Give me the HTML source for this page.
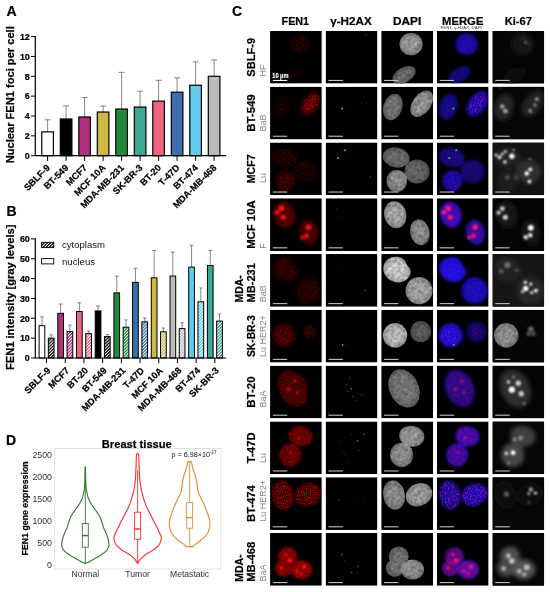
<!DOCTYPE html>
<html lang="en"><head><meta charset="utf-8"><title>FEN1 figure</title>
<style>html,body{margin:0;padding:0;background:#fff}svg{display:block}text{font-family:"Liberation Sans", Arial, sans-serif}</style></head><body>
<svg width="550" height="592" viewBox="0 0 550 592">
<rect width="550" height="592" fill="#fff"/>
<defs>
<pattern id="hSBLF9" width="2.2" height="2.2" patternUnits="userSpaceOnUse" patternTransform="rotate(-45)"><rect width="2.2" height="2.2" fill="#fff"/><rect width="2.2" height="1.3" fill="#222"/></pattern>
<pattern id="hBT549" width="2.2" height="2.2" patternUnits="userSpaceOnUse" patternTransform="rotate(-45)"><rect width="2.2" height="2.2" fill="#fff"/><rect width="2.2" height="1.3" fill="#000000"/></pattern>
<pattern id="hMCF7" width="2.2" height="2.2" patternUnits="userSpaceOnUse" patternTransform="rotate(-45)"><rect width="2.2" height="2.2" fill="#fff"/><rect width="2.2" height="1.3" fill="#b0307c"/></pattern>
<pattern id="hMCF10A" width="2.2" height="2.2" patternUnits="userSpaceOnUse" patternTransform="rotate(-45)"><rect width="2.2" height="2.2" fill="#fff"/><rect width="2.2" height="1.3" fill="#cdb845"/></pattern>
<pattern id="hMDAMB231" width="2.2" height="2.2" patternUnits="userSpaceOnUse" patternTransform="rotate(-45)"><rect width="2.2" height="2.2" fill="#fff"/><rect width="2.2" height="1.3" fill="#1f8a38"/></pattern>
<pattern id="hSKBR3" width="2.2" height="2.2" patternUnits="userSpaceOnUse" patternTransform="rotate(-45)"><rect width="2.2" height="2.2" fill="#fff"/><rect width="2.2" height="1.3" fill="#3fa894"/></pattern>
<pattern id="hBT20" width="2.2" height="2.2" patternUnits="userSpaceOnUse" patternTransform="rotate(-45)"><rect width="2.2" height="2.2" fill="#fff"/><rect width="2.2" height="1.3" fill="#ee6681"/></pattern>
<pattern id="hT47D" width="2.2" height="2.2" patternUnits="userSpaceOnUse" patternTransform="rotate(-45)"><rect width="2.2" height="2.2" fill="#fff"/><rect width="2.2" height="1.3" fill="#3c70ad"/></pattern>
<pattern id="hBT474" width="2.2" height="2.2" patternUnits="userSpaceOnUse" patternTransform="rotate(-45)"><rect width="2.2" height="2.2" fill="#fff"/><rect width="2.2" height="1.3" fill="#62cbee"/></pattern>
<pattern id="hMDAMB468" width="2.2" height="2.2" patternUnits="userSpaceOnUse" patternTransform="rotate(-45)"><rect width="2.2" height="2.2" fill="#fff"/><rect width="2.2" height="1.3" fill="#bbbbbb"/></pattern>
<pattern id="hleg" width="2.2" height="2.2" patternUnits="userSpaceOnUse" patternTransform="rotate(-45)"><rect width="2.2" height="2.2" fill="#fff"/><rect width="2.2" height="1.3" fill="#111"/></pattern>
<filter id="b05" x="-20%" y="-20%" width="140%" height="140%"><feGaussianBlur stdDeviation="0.5"/></filter>
<filter id="b08" x="-20%" y="-20%" width="140%" height="140%"><feGaussianBlur stdDeviation="0.8"/></filter>
<filter id="b12" x="-30%" y="-30%" width="160%" height="160%"><feGaussianBlur stdDeviation="1.2"/></filter>
<filter id="b20" x="-30%" y="-30%" width="160%" height="160%"><feGaussianBlur stdDeviation="2"/></filter>
<filter id="sp" x="-60%" y="-60%" width="220%" height="220%"><feGaussianBlur stdDeviation="0.9"/></filter>
<filter id="sp2" x="-60%" y="-60%" width="220%" height="220%"><feGaussianBlur stdDeviation="0.55"/></filter>
<filter id="sp3" x="-80%" y="-80%" width="260%" height="260%"><feGaussianBlur stdDeviation="0.9"/></filter>
<filter id="dapi" x="-10%" y="-10%" width="120%" height="120%" color-interpolation-filters="sRGB"><feGaussianBlur in="SourceGraphic" stdDeviation="0.6" result="s"/><feTurbulence type="fractalNoise" baseFrequency="0.3" numOctaves="2" seed="4" result="n"/><feColorMatrix in="n" type="matrix" values="0.33 0.33 0.33 0 0  0.33 0.33 0.33 0 0  0.33 0.33 0.33 0 0  0 0 0 0 1" result="g"/><feComposite in="s" in2="g" operator="arithmetic" k1="1.1" k2="0.45" k3="0" k4="0" result="t"/><feGaussianBlur in="SourceAlpha" stdDeviation="3.6" result="d"/><feComposite in="t" in2="d" operator="in" result="td"/><feComposite in="t" in2="td" operator="arithmetic" k1="0" k2="0.64" k3="0.43" k4="0"/></filter>
<filter id="dome" x="-10%" y="-10%" width="120%" height="120%" color-interpolation-filters="sRGB"><feGaussianBlur in="SourceGraphic" stdDeviation="0.9" result="t"/><feGaussianBlur in="SourceAlpha" stdDeviation="3.6" result="d"/><feComposite in="t" in2="d" operator="in" result="td"/><feComposite in="t" in2="td" operator="arithmetic" k1="0" k2="0.64" k3="0.43" k4="0"/></filter>
<filter id="fSoft" x="-25%" y="-25%" width="150%" height="150%" color-interpolation-filters="sRGB"><feGaussianBlur in="SourceGraphic" stdDeviation="2.0" result="s"/><feTurbulence type="fractalNoise" baseFrequency="0.8" numOctaves="2" seed="7" result="n"/><feColorMatrix in="n" type="matrix" values="2.6 0 0 0 -0.7  2.6 0 0 0 -0.7  2.6 0 0 0 -0.7  0 0 0 0 1" result="g"/><feComposite in="s" in2="g" operator="arithmetic" k1="1" k2="0" k3="0" k4="0" result="m"/><feGaussianBlur in="m" stdDeviation="0.6"/></filter>
<filter id="fGrain" x="-25%" y="-25%" width="150%" height="150%" color-interpolation-filters="sRGB"><feGaussianBlur in="SourceGraphic" stdDeviation="1.0" result="s"/><feTurbulence type="fractalNoise" baseFrequency="0.85" numOctaves="2" seed="11" result="n"/><feColorMatrix in="n" type="matrix" values="3.2 0 0 0 -1.1  3.2 0 0 0 -1.1  3.2 0 0 0 -1.1  0 0 0 0 1" result="g"/><feComposite in="s" in2="g" operator="arithmetic" k1="1" k2="0" k3="0" k4="0" result="m"/><feGaussianBlur in="m" stdDeviation="0.55"/></filter>
<filter id="fSparse" x="-25%" y="-25%" width="150%" height="150%" color-interpolation-filters="sRGB"><feGaussianBlur in="SourceGraphic" stdDeviation="1.6" result="s"/><feTurbulence type="fractalNoise" baseFrequency="0.75" numOctaves="2" seed="5" result="n"/><feColorMatrix in="n" type="matrix" values="4.5 0 0 0 -2.0  4.5 0 0 0 -2.0  4.5 0 0 0 -2.0  0 0 0 0 1" result="g"/><feComposite in="s" in2="g" operator="arithmetic" k1="1" k2="0" k3="0" k4="0" result="m"/><feGaussianBlur in="m" stdDeviation="0.6"/></filter>
<filter id="fSmooth" x="-25%" y="-25%" width="150%" height="150%" color-interpolation-filters="sRGB"><feGaussianBlur in="SourceGraphic" stdDeviation="1.4" result="s"/><feTurbulence type="fractalNoise" baseFrequency="0.4" numOctaves="2" seed="9" result="n"/><feColorMatrix in="n" type="matrix" values="1.2 0 0 0 0.35  1.2 0 0 0 0.35  1.2 0 0 0 0.35  0 0 0 0 1" result="g"/><feComposite in="s" in2="g" operator="arithmetic" k1="1" k2="0" k3="0" k4="0" result="m"/><feGaussianBlur in="m" stdDeviation="0.5"/></filter>
<filter id="mGrain" x="-25%" y="-25%" width="150%" height="150%" color-interpolation-filters="sRGB"><feGaussianBlur in="SourceGraphic" stdDeviation="1.2" result="s"/><feTurbulence type="fractalNoise" baseFrequency="0.6" numOctaves="2" seed="13" result="n"/><feColorMatrix in="n" type="matrix" values="5 0 0 0 -2.4  5 0 0 0 -2.4  5 0 0 0 -2.4  0 0 0 0 1" result="g"/><feComposite in="s" in2="g" operator="arithmetic" k1="1" k2="0" k3="0" k4="0" result="m"/><feGaussianBlur in="m" stdDeviation="0.5"/></filter>
</defs>
<text x="6.40" y="16.30" font-size="14" font-weight="bold" stroke="#000" stroke-width="0.22" text-anchor="start" fill="#000">A</text>
<text x="6.60" y="215.60" font-size="14" font-weight="bold" stroke="#000" stroke-width="0.22" text-anchor="start" fill="#000">B</text>
<text x="232.00" y="16.30" font-size="14" font-weight="bold" stroke="#000" stroke-width="0.22" text-anchor="start" fill="#000">C</text>
<text x="6.10" y="444.50" font-size="14" font-weight="bold" stroke="#000" stroke-width="0.22" text-anchor="start" fill="#000">D</text>
<g id="panelA">
<text x="14.20" y="94.75" font-size="11" font-weight="bold" stroke="#000" stroke-width="0.22" text-anchor="middle" fill="#000" transform="rotate(-90 14.20 94.75)" textLength="137.00" lengthAdjust="spacingAndGlyphs">Nuclear FEN1 foci per cell</text>
<path d="M47.60 131.88V119.77M44.60 119.77H50.60" stroke="#555" stroke-width="0.7" fill="none"/>
<rect x="41.80" y="131.88" width="11.6" height="23.82" fill="#ffffff" stroke="#000" stroke-width="1.2"/>
<path d="M47.60 155.70v5.2" stroke="#000" stroke-width="1"/>
<text x="50.70" y="168.30" font-size="9.3" font-weight="bold" stroke="#000" stroke-width="0.22" text-anchor="end" fill="#000" transform="rotate(-45 50.70 168.30)">SBLF-9</text>
<path d="M66.10 118.98V105.88M63.10 105.88H69.10" stroke="#555" stroke-width="0.7" fill="none"/>
<rect x="60.30" y="118.98" width="11.6" height="36.72" fill="#000000" stroke="#000" stroke-width="1.2"/>
<path d="M66.10 155.70v5.2" stroke="#000" stroke-width="1"/>
<text x="69.20" y="168.30" font-size="9.3" font-weight="bold" stroke="#000" stroke-width="0.22" text-anchor="end" fill="#000" transform="rotate(-45 69.20 168.30)">BT-549</text>
<path d="M84.60 116.99V97.64M81.60 97.64H87.60" stroke="#555" stroke-width="0.7" fill="none"/>
<rect x="78.80" y="116.99" width="11.6" height="38.71" fill="#b0307c" stroke="#000" stroke-width="1.2"/>
<path d="M84.60 155.70v5.2" stroke="#000" stroke-width="1"/>
<text x="87.70" y="168.30" font-size="9.3" font-weight="bold" stroke="#000" stroke-width="0.22" text-anchor="end" fill="#000" transform="rotate(-45 87.70 168.30)">MCF7</text>
<path d="M103.10 112.03V106.07M100.10 106.07H106.10" stroke="#555" stroke-width="0.7" fill="none"/>
<rect x="97.30" y="112.03" width="11.6" height="43.67" fill="#cdb845" stroke="#000" stroke-width="1.2"/>
<path d="M103.10 155.70v5.2" stroke="#000" stroke-width="1"/>
<text x="106.20" y="168.30" font-size="9.3" font-weight="bold" stroke="#000" stroke-width="0.22" text-anchor="end" fill="#000" transform="rotate(-45 106.20 168.30)">MCF 10A</text>
<path d="M121.60 109.05V72.33M118.60 72.33H124.60" stroke="#555" stroke-width="0.7" fill="none"/>
<rect x="115.80" y="109.05" width="11.6" height="46.65" fill="#1f8a38" stroke="#000" stroke-width="1.2"/>
<path d="M121.60 155.70v5.2" stroke="#000" stroke-width="1"/>
<text x="124.70" y="168.30" font-size="9.3" font-weight="bold" stroke="#000" stroke-width="0.22" text-anchor="end" fill="#000" transform="rotate(-45 124.70 168.30)">MDA-MB-231</text>
<path d="M140.10 107.07V91.19M137.10 91.19H143.10" stroke="#555" stroke-width="0.7" fill="none"/>
<rect x="134.30" y="107.07" width="11.6" height="48.63" fill="#3fa894" stroke="#000" stroke-width="1.2"/>
<path d="M140.10 155.70v5.2" stroke="#000" stroke-width="1"/>
<text x="143.20" y="168.30" font-size="9.3" font-weight="bold" stroke="#000" stroke-width="0.22" text-anchor="end" fill="#000" transform="rotate(-45 143.20 168.30)">SK-BR-3</text>
<path d="M158.60 101.11V80.27M155.60 80.27H161.60" stroke="#555" stroke-width="0.7" fill="none"/>
<rect x="152.80" y="101.11" width="11.6" height="54.59" fill="#ee6681" stroke="#000" stroke-width="1.2"/>
<path d="M158.60 155.70v5.2" stroke="#000" stroke-width="1"/>
<text x="161.70" y="168.30" font-size="9.3" font-weight="bold" stroke="#000" stroke-width="0.22" text-anchor="end" fill="#000" transform="rotate(-45 161.70 168.30)">BT-20</text>
<path d="M177.10 92.18V77.79M174.10 77.79H180.10" stroke="#555" stroke-width="0.7" fill="none"/>
<rect x="171.30" y="92.18" width="11.6" height="63.52" fill="#3c70ad" stroke="#000" stroke-width="1.2"/>
<path d="M177.10 155.70v5.2" stroke="#000" stroke-width="1"/>
<text x="180.20" y="168.30" font-size="9.3" font-weight="bold" stroke="#000" stroke-width="0.22" text-anchor="end" fill="#000" transform="rotate(-45 180.20 168.30)">T-47D</text>
<path d="M195.60 85.23V61.91M192.60 61.91H198.60" stroke="#555" stroke-width="0.7" fill="none"/>
<rect x="189.80" y="85.23" width="11.6" height="70.47" fill="#62cbee" stroke="#000" stroke-width="1.2"/>
<path d="M195.60 155.70v5.2" stroke="#000" stroke-width="1"/>
<text x="198.70" y="168.30" font-size="9.3" font-weight="bold" stroke="#000" stroke-width="0.22" text-anchor="end" fill="#000" transform="rotate(-45 198.70 168.30)">BT-474</text>
<path d="M214.10 76.30V59.92M211.10 59.92H217.10" stroke="#555" stroke-width="0.7" fill="none"/>
<rect x="208.30" y="76.30" width="11.6" height="79.40" fill="#bbbbbb" stroke="#000" stroke-width="1.2"/>
<path d="M214.10 155.70v5.2" stroke="#000" stroke-width="1"/>
<text x="217.20" y="168.30" font-size="9.3" font-weight="bold" stroke="#000" stroke-width="0.22" text-anchor="end" fill="#000" transform="rotate(-45 217.20 168.30)">MDA-MB-468</text>
<path d="M35.3 36.1V155.7H226.2" stroke="#000" stroke-width="1.2" fill="none"/>
<path d="M30.999999999999996 155.70H35.3" stroke="#000" stroke-width="1"/>
<text x="29.80" y="158.90" font-size="8.9" font-weight="bold" stroke="#000" stroke-width="0.22" text-anchor="end" fill="#000">0</text>
<path d="M30.999999999999996 135.85H35.3" stroke="#000" stroke-width="1"/>
<text x="29.80" y="139.05" font-size="8.9" font-weight="bold" stroke="#000" stroke-width="0.22" text-anchor="end" fill="#000">2</text>
<path d="M30.999999999999996 116.00H35.3" stroke="#000" stroke-width="1"/>
<text x="29.80" y="119.20" font-size="8.9" font-weight="bold" stroke="#000" stroke-width="0.22" text-anchor="end" fill="#000">4</text>
<path d="M30.999999999999996 96.15H35.3" stroke="#000" stroke-width="1"/>
<text x="29.80" y="99.35" font-size="8.9" font-weight="bold" stroke="#000" stroke-width="0.22" text-anchor="end" fill="#000">6</text>
<path d="M30.999999999999996 76.30H35.3" stroke="#000" stroke-width="1"/>
<text x="29.80" y="79.50" font-size="8.9" font-weight="bold" stroke="#000" stroke-width="0.22" text-anchor="end" fill="#000">8</text>
<path d="M30.999999999999996 56.45H35.3" stroke="#000" stroke-width="1"/>
<text x="29.80" y="59.65" font-size="8.9" font-weight="bold" stroke="#000" stroke-width="0.22" text-anchor="end" fill="#000">10</text>
<path d="M30.999999999999996 36.60H35.3" stroke="#000" stroke-width="1"/>
<text x="29.80" y="39.80" font-size="8.9" font-weight="bold" stroke="#000" stroke-width="0.22" text-anchor="end" fill="#000">12</text>
</g>
<g id="panelB">
<text x="14.20" y="297.30" font-size="11" font-weight="bold" stroke="#000" stroke-width="0.22" text-anchor="middle" fill="#000" transform="rotate(-90 14.20 297.30)" textLength="145.50" lengthAdjust="spacingAndGlyphs">FEN1 intensity [gray levels]</text>
<path d="M41.95 325.64V316.91M39.95 316.91H43.95" stroke="#555" stroke-width="0.7" fill="none"/>
<rect x="39.10" y="325.64" width="5.7" height="32.36" fill="#ffffff" stroke="#000" stroke-width="1.0"/>
<path d="M51.20 338.15V334.78M49.60 334.78H52.80" stroke="#555" stroke-width="0.7" fill="none"/>
<rect x="48.35" y="338.15" width="5.7" height="19.85" fill="url(#hSBLF9)" stroke="#000" stroke-width="1.0"/>
<path d="M46.55 358.00v5.2" stroke="#000" stroke-width="1"/>
<text x="51.25" y="371.20" font-size="9.3" font-weight="bold" stroke="#000" stroke-width="0.22" text-anchor="end" fill="#000" transform="rotate(-45 51.25 371.20)">SBLF-9</text>
<path d="M60.65 313.34V304.01M58.65 304.01H62.65" stroke="#555" stroke-width="0.7" fill="none"/>
<rect x="57.80" y="313.34" width="5.7" height="44.66" fill="#b0307c" stroke="#000" stroke-width="1.0"/>
<path d="M69.90 331.60V325.05M68.30 325.05H71.50" stroke="#555" stroke-width="0.7" fill="none"/>
<rect x="67.05" y="331.60" width="5.7" height="26.40" fill="url(#hMCF7)" stroke="#000" stroke-width="1.0"/>
<path d="M65.25 358.00v5.2" stroke="#000" stroke-width="1"/>
<text x="69.95" y="371.20" font-size="9.3" font-weight="bold" stroke="#000" stroke-width="0.22" text-anchor="end" fill="#000" transform="rotate(-45 69.95 371.20)">MCF7</text>
<path d="M79.35 311.55V302.82M77.35 302.82H81.35" stroke="#555" stroke-width="0.7" fill="none"/>
<rect x="76.50" y="311.55" width="5.7" height="46.45" fill="#ee6681" stroke="#000" stroke-width="1.0"/>
<path d="M88.60 333.58V331.00M87.00 331.00H90.20" stroke="#555" stroke-width="0.7" fill="none"/>
<rect x="85.75" y="333.58" width="5.7" height="24.42" fill="url(#hBT20)" stroke="#000" stroke-width="1.0"/>
<path d="M83.95 358.00v5.2" stroke="#000" stroke-width="1"/>
<text x="88.65" y="371.20" font-size="9.3" font-weight="bold" stroke="#000" stroke-width="0.22" text-anchor="end" fill="#000" transform="rotate(-45 88.65 371.20)">BT-20</text>
<path d="M98.05 310.96V305.99M96.05 305.99H100.05" stroke="#555" stroke-width="0.7" fill="none"/>
<rect x="95.20" y="310.96" width="5.7" height="47.04" fill="#000000" stroke="#000" stroke-width="1.0"/>
<path d="M107.30 336.56V334.58M105.70 334.58H108.90" stroke="#555" stroke-width="0.7" fill="none"/>
<rect x="104.45" y="336.56" width="5.7" height="21.44" fill="url(#hBT549)" stroke="#000" stroke-width="1.0"/>
<path d="M102.65 358.00v5.2" stroke="#000" stroke-width="1"/>
<text x="107.35" y="371.20" font-size="9.3" font-weight="bold" stroke="#000" stroke-width="0.22" text-anchor="end" fill="#000" transform="rotate(-45 107.35 371.20)">BT-549</text>
<path d="M116.75 292.89V276.22M114.75 276.22H118.75" stroke="#555" stroke-width="0.7" fill="none"/>
<rect x="113.90" y="292.89" width="5.7" height="65.11" fill="#1f8a38" stroke="#000" stroke-width="1.0"/>
<path d="M126.00 327.23V319.89M124.40 319.89H127.60" stroke="#555" stroke-width="0.7" fill="none"/>
<rect x="123.15" y="327.23" width="5.7" height="30.77" fill="url(#hMDAMB231)" stroke="#000" stroke-width="1.0"/>
<path d="M121.35 358.00v5.2" stroke="#000" stroke-width="1"/>
<text x="126.05" y="371.20" font-size="9.3" font-weight="bold" stroke="#000" stroke-width="0.22" text-anchor="end" fill="#000" transform="rotate(-45 126.05 371.20)">MDA-MB-231</text>
<path d="M135.45 282.37V268.28M133.45 268.28H137.45" stroke="#555" stroke-width="0.7" fill="none"/>
<rect x="132.60" y="282.37" width="5.7" height="75.63" fill="#3c70ad" stroke="#000" stroke-width="1.0"/>
<path d="M144.70 321.87V317.90M143.10 317.90H146.30" stroke="#555" stroke-width="0.7" fill="none"/>
<rect x="141.85" y="321.87" width="5.7" height="36.13" fill="url(#hT47D)" stroke="#000" stroke-width="1.0"/>
<path d="M140.05 358.00v5.2" stroke="#000" stroke-width="1"/>
<text x="144.75" y="371.20" font-size="9.3" font-weight="bold" stroke="#000" stroke-width="0.22" text-anchor="end" fill="#000" transform="rotate(-45 144.75 371.20)">T-47D</text>
<path d="M154.15 277.81V250.41M152.15 250.41H156.15" stroke="#555" stroke-width="0.7" fill="none"/>
<rect x="151.30" y="277.81" width="5.7" height="80.19" fill="#cdb845" stroke="#000" stroke-width="1.0"/>
<path d="M163.40 331.80V328.03M161.80 328.03H165.00" stroke="#555" stroke-width="0.7" fill="none"/>
<rect x="160.55" y="331.80" width="5.7" height="26.20" fill="url(#hMCF10A)" stroke="#000" stroke-width="1.0"/>
<path d="M158.75 358.00v5.2" stroke="#000" stroke-width="1"/>
<text x="163.45" y="371.20" font-size="9.3" font-weight="bold" stroke="#000" stroke-width="0.22" text-anchor="end" fill="#000" transform="rotate(-45 163.45 371.20)">MCF 10A</text>
<path d="M172.85 276.02V252.20M170.85 252.20H174.85" stroke="#555" stroke-width="0.7" fill="none"/>
<rect x="170.00" y="276.02" width="5.7" height="81.98" fill="#bbbbbb" stroke="#000" stroke-width="1.0"/>
<path d="M182.10 328.62V322.67M180.50 322.67H183.70" stroke="#555" stroke-width="0.7" fill="none"/>
<rect x="179.25" y="328.62" width="5.7" height="29.38" fill="url(#hMDAMB468)" stroke="#000" stroke-width="1.0"/>
<path d="M177.45 358.00v5.2" stroke="#000" stroke-width="1"/>
<text x="182.15" y="371.20" font-size="9.3" font-weight="bold" stroke="#000" stroke-width="0.22" text-anchor="end" fill="#000" transform="rotate(-45 182.15 371.20)">MDA-MB-468</text>
<path d="M191.55 267.09V245.25M189.55 245.25H193.55" stroke="#555" stroke-width="0.7" fill="none"/>
<rect x="188.70" y="267.09" width="5.7" height="90.91" fill="#62cbee" stroke="#000" stroke-width="1.0"/>
<path d="M200.80 301.82V287.93M199.20 287.93H202.40" stroke="#555" stroke-width="0.7" fill="none"/>
<rect x="197.95" y="301.82" width="5.7" height="56.18" fill="url(#hBT474)" stroke="#000" stroke-width="1.0"/>
<path d="M196.15 358.00v5.2" stroke="#000" stroke-width="1"/>
<text x="200.85" y="371.20" font-size="9.3" font-weight="bold" stroke="#000" stroke-width="0.22" text-anchor="end" fill="#000" transform="rotate(-45 200.85 371.20)">BT-474</text>
<path d="M210.25 265.50V250.41M208.25 250.41H212.25" stroke="#555" stroke-width="0.7" fill="none"/>
<rect x="207.40" y="265.50" width="5.7" height="92.50" fill="#3fa894" stroke="#000" stroke-width="1.0"/>
<path d="M219.50 321.08V313.93M217.90 313.93H221.10" stroke="#555" stroke-width="0.7" fill="none"/>
<rect x="216.65" y="321.08" width="5.7" height="36.92" fill="url(#hSKBR3)" stroke="#000" stroke-width="1.0"/>
<path d="M214.85 358.00v5.2" stroke="#000" stroke-width="1"/>
<text x="219.55" y="371.20" font-size="9.3" font-weight="bold" stroke="#000" stroke-width="0.22" text-anchor="end" fill="#000" transform="rotate(-45 219.55 371.20)">SK-BR-3</text>
<path d="M35.3 238.3V358.0H226.2" stroke="#000" stroke-width="1.2" fill="none"/>
<path d="M30.999999999999996 358.00H35.3" stroke="#000" stroke-width="1"/>
<text x="29.80" y="361.20" font-size="8.9" font-weight="bold" stroke="#000" stroke-width="0.22" text-anchor="end" fill="#000">0</text>
<path d="M30.999999999999996 338.15H35.3" stroke="#000" stroke-width="1"/>
<text x="29.80" y="341.35" font-size="8.9" font-weight="bold" stroke="#000" stroke-width="0.22" text-anchor="end" fill="#000">10</text>
<path d="M30.999999999999996 318.30H35.3" stroke="#000" stroke-width="1"/>
<text x="29.80" y="321.50" font-size="8.9" font-weight="bold" stroke="#000" stroke-width="0.22" text-anchor="end" fill="#000">20</text>
<path d="M30.999999999999996 298.45H35.3" stroke="#000" stroke-width="1"/>
<text x="29.80" y="301.65" font-size="8.9" font-weight="bold" stroke="#000" stroke-width="0.22" text-anchor="end" fill="#000">30</text>
<path d="M30.999999999999996 278.60H35.3" stroke="#000" stroke-width="1"/>
<text x="29.80" y="281.80" font-size="8.9" font-weight="bold" stroke="#000" stroke-width="0.22" text-anchor="end" fill="#000">40</text>
<path d="M30.999999999999996 258.75H35.3" stroke="#000" stroke-width="1"/>
<text x="29.80" y="261.95" font-size="8.9" font-weight="bold" stroke="#000" stroke-width="0.22" text-anchor="end" fill="#000">50</text>
<path d="M30.999999999999996 238.90H35.3" stroke="#000" stroke-width="1"/>
<text x="29.80" y="242.10" font-size="8.9" font-weight="bold" stroke="#000" stroke-width="0.22" text-anchor="end" fill="#000">60</text>
<rect x="41.6" y="242.3" width="12.2" height="5.3" fill="url(#hleg)" stroke="#000" stroke-width="0.9"/>
<rect x="41.6" y="258.6" width="12.2" height="5.3" fill="#fff" stroke="#000" stroke-width="0.9"/>
<text x="62.00" y="248.30" font-size="9.6" text-anchor="start" fill="#111" textLength="43.00" lengthAdjust="spacingAndGlyphs">cytoplasm</text>
<text x="62.00" y="264.60" font-size="9.6" text-anchor="start" fill="#111" textLength="33.00" lengthAdjust="spacingAndGlyphs">nucleus</text>
</g>
<g id="panelD">
<rect x="54.8" y="448.6" width="166.2" height="120.4" fill="#fff" stroke="#d9d9d9" stroke-width="0.8"/>
<text x="136.80" y="447.60" font-size="11.2" font-weight="bold" stroke="#000" stroke-width="0.22" text-anchor="middle" fill="#000" textLength="70.00" lengthAdjust="spacingAndGlyphs">Breast tissue</text>
<text x="28.20" y="508.40" font-size="8.8" font-weight="bold" stroke="#000" stroke-width="0.22" text-anchor="middle" fill="#000" transform="rotate(-90 28.20 508.40)" textLength="94.00" lengthAdjust="spacingAndGlyphs">FEN1 gene expression</text>
<text x="52.00" y="567.50" font-size="8.8" text-anchor="end" fill="#333">0</text>
<text x="52.00" y="545.65" font-size="8.8" text-anchor="end" fill="#333">500</text>
<text x="52.00" y="523.80" font-size="8.8" text-anchor="end" fill="#333">1000</text>
<text x="52.00" y="501.95" font-size="8.8" text-anchor="end" fill="#333">1500</text>
<text x="52.00" y="480.10" font-size="8.8" text-anchor="end" fill="#333">2000</text>
<text x="52.00" y="458.25" font-size="8.8" text-anchor="end" fill="#333">2500</text>
<text x="85.30" y="577.40" font-size="8.6" text-anchor="middle" fill="#333">Normal</text>
<text x="137.60" y="577.40" font-size="8.6" text-anchor="middle" fill="#333">Tumor</text>
<text x="189.60" y="577.40" font-size="8.6" text-anchor="middle" fill="#333">Metastatic</text>
<text x="171.60" y="457.00" font-size="7.2" text-anchor="start" fill="#111">p = 6.98×10<tspan font-size="4.6" dy="-2.6">-17</tspan></text>
<path d="M85.48 466.83 L85.48 467.71 L85.49 468.60 L85.50 469.49 L85.51 470.37 L85.52 471.26 L85.53 472.14 L85.55 473.03 L85.56 473.92 L85.58 474.80 L85.60 475.69 L85.62 476.57 L85.64 477.46 L85.66 478.35 L85.69 479.23 L85.71 480.12 L85.74 481.00 L85.77 481.89 L85.80 482.77 L85.84 483.66 L85.88 484.55 L85.93 485.43 L85.98 486.32 L86.04 487.20 L86.11 488.09 L86.22 488.98 L86.36 489.86 L86.53 490.75 L86.71 491.63 L86.90 492.52 L87.09 493.41 L87.28 494.29 L87.49 495.18 L87.72 496.06 L87.97 496.95 L88.25 497.84 L88.56 498.72 L88.93 499.61 L89.34 500.49 L89.80 501.38 L90.28 502.27 L90.78 503.15 L91.29 504.04 L91.83 504.92 L92.42 505.81 L93.05 506.70 L93.70 507.58 L94.35 508.47 L95.00 509.35 L95.62 510.24 L96.22 511.13 L96.84 512.01 L97.46 512.90 L98.07 513.78 L98.64 514.67 L99.16 515.56 L99.63 516.44 L100.05 517.33 L100.44 518.21 L100.80 519.10 L101.15 519.98 L101.47 520.87 L101.78 521.76 L102.08 522.64 L102.35 523.53 L102.60 524.41 L102.84 525.30 L103.08 526.19 L103.35 527.07 L103.67 527.96 L104.03 528.84 L104.44 529.73 L104.86 530.62 L105.28 531.50 L105.69 532.39 L106.05 533.27 L106.40 534.16 L106.75 535.05 L107.09 535.93 L107.41 536.82 L107.70 537.70 L107.95 538.59 L108.16 539.48 L108.37 540.36 L108.56 541.25 L108.74 542.13 L108.88 543.02 L108.97 543.91 L108.98 544.79 L108.87 545.68 L108.64 546.56 L108.30 547.45 L107.90 548.34 L107.44 549.22 L106.93 550.11 L106.18 550.99 L105.20 551.88 L104.07 552.76 L102.87 553.65 L101.66 554.54 L100.33 555.42 L98.86 556.31 L97.32 557.19 L95.75 558.08 L94.19 558.97 L92.68 559.85 L91.14 560.74 L89.46 561.62 L87.52 562.51 L85.30 563.40 L85.30 563.40 L83.08 562.51 L81.14 561.62 L79.46 560.74 L77.92 559.85 L76.41 558.97 L74.85 558.08 L73.28 557.19 L71.74 556.31 L70.27 555.42 L68.94 554.54 L67.73 553.65 L66.53 552.76 L65.40 551.88 L64.42 550.99 L63.67 550.11 L63.16 549.22 L62.70 548.34 L62.30 547.45 L61.96 546.56 L61.73 545.68 L61.62 544.79 L61.63 543.91 L61.72 543.02 L61.86 542.13 L62.04 541.25 L62.23 540.36 L62.44 539.48 L62.65 538.59 L62.90 537.70 L63.19 536.82 L63.51 535.93 L63.85 535.05 L64.20 534.16 L64.55 533.27 L64.91 532.39 L65.32 531.50 L65.74 530.62 L66.16 529.73 L66.57 528.84 L66.93 527.96 L67.25 527.07 L67.52 526.19 L67.76 525.30 L68.00 524.41 L68.25 523.53 L68.52 522.64 L68.82 521.76 L69.13 520.87 L69.45 519.98 L69.80 519.10 L70.16 518.21 L70.55 517.33 L70.97 516.44 L71.44 515.56 L71.96 514.67 L72.53 513.78 L73.14 512.90 L73.76 512.01 L74.38 511.13 L74.98 510.24 L75.60 509.35 L76.25 508.47 L76.90 507.58 L77.55 506.70 L78.18 505.81 L78.77 504.92 L79.31 504.04 L79.82 503.15 L80.32 502.27 L80.80 501.38 L81.26 500.49 L81.67 499.61 L82.04 498.72 L82.35 497.84 L82.63 496.95 L82.88 496.06 L83.11 495.18 L83.32 494.29 L83.51 493.41 L83.70 492.52 L83.89 491.63 L84.07 490.75 L84.24 489.86 L84.38 488.98 L84.49 488.09 L84.56 487.20 L84.62 486.32 L84.67 485.43 L84.72 484.55 L84.76 483.66 L84.80 482.77 L84.83 481.89 L84.86 481.00 L84.89 480.12 L84.91 479.23 L84.94 478.35 L84.96 477.46 L84.98 476.57 L85.00 475.69 L85.02 474.80 L85.04 473.92 L85.05 473.03 L85.07 472.14 L85.08 471.26 L85.09 470.37 L85.10 469.49 L85.11 468.60 L85.12 467.71 L85.12 466.83Z" fill="none" stroke="#2e7d32" stroke-width="1.15" stroke-linejoin="round"/>
<path d="M137.60 453.47 L138.59 454.47 L138.74 455.48 L138.81 456.49 L138.87 457.50 L138.91 458.51 L138.95 459.52 L138.97 460.53 L138.99 461.53 L139.01 462.54 L139.03 463.55 L139.06 464.56 L139.09 465.57 L139.13 466.58 L139.18 467.59 L139.22 468.59 L139.26 469.60 L139.30 470.61 L139.35 471.62 L139.39 472.63 L139.44 473.64 L139.49 474.65 L139.55 475.65 L139.61 476.66 L139.68 477.67 L139.75 478.68 L139.84 479.69 L139.94 480.70 L140.06 481.71 L140.20 482.71 L140.34 483.72 L140.49 484.73 L140.65 485.74 L140.82 486.75 L140.99 487.76 L141.17 488.76 L141.38 489.77 L141.59 490.78 L141.83 491.79 L142.07 492.80 L142.32 493.81 L142.59 494.82 L142.86 495.82 L143.13 496.83 L143.42 497.84 L143.72 498.85 L144.03 499.86 L144.35 500.87 L144.69 501.88 L145.04 502.88 L145.41 503.89 L145.79 504.90 L146.19 505.91 L146.62 506.92 L147.09 507.93 L147.59 508.94 L148.10 509.94 L148.64 510.95 L149.17 511.96 L149.71 512.97 L150.24 513.98 L150.75 514.99 L151.25 516.00 L151.76 517.00 L152.27 518.01 L152.78 519.02 L153.28 520.03 L153.79 521.04 L154.29 522.05 L154.79 523.05 L155.28 524.06 L155.78 525.07 L156.28 526.08 L156.78 527.09 L157.27 528.10 L157.76 529.11 L158.23 530.11 L158.69 531.12 L159.15 532.13 L159.67 533.14 L160.20 534.15 L160.69 535.16 L161.06 536.17 L161.27 537.17 L161.27 538.18 L161.15 539.19 L160.94 540.20 L160.66 541.21 L160.32 542.22 L159.94 543.23 L159.49 544.23 L158.78 545.24 L157.85 546.25 L156.75 547.26 L155.54 548.27 L154.27 549.28 L152.93 550.29 L151.27 551.29 L149.45 552.30 L147.65 553.31 L146.06 554.32 L144.65 555.33 L143.33 556.34 L142.15 557.35 L141.15 558.35 L140.30 559.36 L139.54 560.37 L138.84 561.38 L138.19 562.39 L137.60 563.40 L137.60 563.40 L137.01 562.39 L136.36 561.38 L135.66 560.37 L134.90 559.36 L134.05 558.35 L133.05 557.35 L131.87 556.34 L130.55 555.33 L129.14 554.32 L127.55 553.31 L125.75 552.30 L123.93 551.29 L122.27 550.29 L120.93 549.28 L119.66 548.27 L118.45 547.26 L117.35 546.25 L116.42 545.24 L115.71 544.23 L115.26 543.23 L114.88 542.22 L114.54 541.21 L114.26 540.20 L114.05 539.19 L113.93 538.18 L113.93 537.17 L114.14 536.17 L114.51 535.16 L115.00 534.15 L115.53 533.14 L116.05 532.13 L116.51 531.12 L116.97 530.11 L117.44 529.11 L117.93 528.10 L118.42 527.09 L118.92 526.08 L119.42 525.07 L119.92 524.06 L120.41 523.05 L120.91 522.05 L121.41 521.04 L121.92 520.03 L122.42 519.02 L122.93 518.01 L123.44 517.00 L123.95 516.00 L124.45 514.99 L124.96 513.98 L125.49 512.97 L126.03 511.96 L126.56 510.95 L127.10 509.94 L127.61 508.94 L128.11 507.93 L128.58 506.92 L129.01 505.91 L129.41 504.90 L129.79 503.89 L130.16 502.88 L130.51 501.88 L130.85 500.87 L131.17 499.86 L131.48 498.85 L131.78 497.84 L132.07 496.83 L132.34 495.82 L132.61 494.82 L132.88 493.81 L133.13 492.80 L133.37 491.79 L133.61 490.78 L133.82 489.77 L134.03 488.76 L134.21 487.76 L134.38 486.75 L134.55 485.74 L134.71 484.73 L134.86 483.72 L135.00 482.71 L135.14 481.71 L135.26 480.70 L135.36 479.69 L135.45 478.68 L135.52 477.67 L135.59 476.66 L135.65 475.65 L135.71 474.65 L135.76 473.64 L135.81 472.63 L135.85 471.62 L135.90 470.61 L135.94 469.60 L135.98 468.59 L136.02 467.59 L136.07 466.58 L136.11 465.57 L136.14 464.56 L136.17 463.55 L136.19 462.54 L136.21 461.53 L136.23 460.53 L136.25 459.52 L136.29 458.51 L136.33 457.50 L136.39 456.49 L136.46 455.48 L136.61 454.47 L137.60 453.47Z" fill="none" stroke="#ff3030" stroke-width="1.15" stroke-linejoin="round"/>
<path d="M191.42 461.67 L191.55 462.45 L191.69 463.23 L191.84 464.01 L192.00 464.79 L192.18 465.57 L192.36 466.35 L192.57 467.13 L192.81 467.91 L193.06 468.69 L193.32 469.47 L193.60 470.25 L193.87 471.03 L194.14 471.81 L194.40 472.59 L194.64 473.37 L194.85 474.15 L195.07 474.93 L195.28 475.71 L195.49 476.49 L195.69 477.27 L195.88 478.05 L196.07 478.83 L196.24 479.61 L196.40 480.39 L196.54 481.17 L196.67 481.95 L196.78 482.73 L196.89 483.51 L196.98 484.29 L197.08 485.07 L197.18 485.85 L197.28 486.63 L197.37 487.41 L197.45 488.19 L197.55 488.97 L197.66 489.75 L197.80 490.53 L197.99 491.31 L198.24 492.09 L198.54 492.87 L198.88 493.65 L199.23 494.43 L199.60 495.21 L199.96 495.99 L200.31 496.77 L200.66 497.55 L201.03 498.33 L201.41 499.11 L201.80 499.89 L202.19 500.67 L202.58 501.45 L202.97 502.23 L203.34 503.01 L203.70 503.79 L204.04 504.57 L204.38 505.35 L204.71 506.13 L205.03 506.91 L205.35 507.69 L205.67 508.47 L205.97 509.25 L206.27 510.03 L206.56 510.81 L206.84 511.59 L207.13 512.37 L207.41 513.15 L207.70 513.93 L207.99 514.71 L208.26 515.49 L208.53 516.27 L208.77 517.05 L208.99 517.83 L209.18 518.61 L209.34 519.39 L209.49 520.17 L209.63 520.95 L209.76 521.73 L209.86 522.51 L209.93 523.29 L209.95 524.07 L209.92 524.85 L209.85 525.63 L209.74 526.41 L209.60 527.19 L209.44 527.97 L209.24 528.75 L209.03 529.53 L208.80 530.31 L208.56 531.09 L208.30 531.87 L207.92 532.65 L207.44 533.43 L206.87 534.21 L206.23 534.99 L205.55 535.77 L204.83 536.55 L204.10 537.33 L203.36 538.11 L202.53 538.89 L201.64 539.67 L200.69 540.45 L199.71 541.23 L198.72 542.01 L197.74 542.79 L196.62 543.57 L195.40 544.35 L194.37 545.13 L193.79 545.91 L193.55 546.69 L185.65 546.69 L185.41 545.91 L184.83 545.13 L183.80 544.35 L182.58 543.57 L181.46 542.79 L180.48 542.01 L179.49 541.23 L178.51 540.45 L177.56 539.67 L176.67 538.89 L175.84 538.11 L175.10 537.33 L174.37 536.55 L173.65 535.77 L172.97 534.99 L172.33 534.21 L171.76 533.43 L171.28 532.65 L170.90 531.87 L170.64 531.09 L170.40 530.31 L170.17 529.53 L169.96 528.75 L169.76 527.97 L169.60 527.19 L169.46 526.41 L169.35 525.63 L169.28 524.85 L169.25 524.07 L169.27 523.29 L169.34 522.51 L169.44 521.73 L169.57 520.95 L169.71 520.17 L169.86 519.39 L170.02 518.61 L170.21 517.83 L170.43 517.05 L170.67 516.27 L170.94 515.49 L171.21 514.71 L171.50 513.93 L171.79 513.15 L172.07 512.37 L172.36 511.59 L172.64 510.81 L172.93 510.03 L173.23 509.25 L173.53 508.47 L173.85 507.69 L174.17 506.91 L174.49 506.13 L174.82 505.35 L175.16 504.57 L175.50 503.79 L175.86 503.01 L176.23 502.23 L176.62 501.45 L177.01 500.67 L177.40 499.89 L177.79 499.11 L178.17 498.33 L178.54 497.55 L178.89 496.77 L179.24 495.99 L179.60 495.21 L179.97 494.43 L180.32 493.65 L180.66 492.87 L180.96 492.09 L181.21 491.31 L181.40 490.53 L181.54 489.75 L181.65 488.97 L181.75 488.19 L181.83 487.41 L181.92 486.63 L182.02 485.85 L182.12 485.07 L182.22 484.29 L182.31 483.51 L182.42 482.73 L182.53 481.95 L182.66 481.17 L182.80 480.39 L182.96 479.61 L183.13 478.83 L183.32 478.05 L183.51 477.27 L183.71 476.49 L183.92 475.71 L184.13 474.93 L184.35 474.15 L184.56 473.37 L184.80 472.59 L185.06 471.81 L185.33 471.03 L185.60 470.25 L185.88 469.47 L186.14 468.69 L186.39 467.91 L186.63 467.13 L186.84 466.35 L187.02 465.57 L187.20 464.79 L187.36 464.01 L187.51 463.23 L187.65 462.45 L187.78 461.67Z" fill="none" stroke="#e98b3a" stroke-width="1.15" stroke-linejoin="round"/>
<path d="M85.3 467.20V564.00" stroke="#2e7d32" stroke-width="0.9"/>
<rect x="82.30" y="523.50" width="6" height="23.70" fill="#fff" stroke="#2e7d32" stroke-width="0.9"/>
<path d="M82.30 535.60h6" stroke="#2e7d32" stroke-width="1.5"/>
<path d="M137.6 470.50V563.00" stroke="#ff3030" stroke-width="0.9"/>
<rect x="134.60" y="512.20" width="6" height="27.10" fill="#fff" stroke="#ff3030" stroke-width="0.9"/>
<path d="M134.60 529.00h6" stroke="#ff3030" stroke-width="1.5"/>
<path d="M189.6 461.20V547.00" stroke="#e98b3a" stroke-width="0.9"/>
<rect x="186.60" y="502.50" width="6" height="25.70" fill="#fff" stroke="#e98b3a" stroke-width="0.9"/>
<path d="M186.60 517.60h6" stroke="#e98b3a" stroke-width="1.5"/>
</g>
<text x="295.32" y="25.30" font-size="11.5" font-weight="bold" stroke="#000" stroke-width="0.22" text-anchor="middle" fill="#000" textLength="27.50" lengthAdjust="spacingAndGlyphs">FEN1</text>
<text x="350.93" y="25.30" font-size="11.5" font-weight="bold" stroke="#000" stroke-width="0.22" text-anchor="middle" fill="#000" textLength="41.50" lengthAdjust="spacingAndGlyphs">γ-H2AX</text>
<text x="407.12" y="25.30" font-size="11.5" font-weight="bold" stroke="#000" stroke-width="0.22" text-anchor="middle" fill="#000" textLength="28.30" lengthAdjust="spacingAndGlyphs">DAPI</text>
<text x="462.73" y="24.70" font-size="11.5" font-weight="bold" stroke="#000" stroke-width="0.22" text-anchor="middle" fill="#000" textLength="41.40" lengthAdjust="spacingAndGlyphs">MERGE</text>
<text x="518.33" y="25.30" font-size="11.5" font-weight="bold" stroke="#000" stroke-width="0.22" text-anchor="middle" fill="#000" textLength="27.30" lengthAdjust="spacingAndGlyphs">Ki-67</text>
<text x="461.20" y="28.90" font-size="4.4" text-anchor="middle" fill="#333" textLength="41.20" lengthAdjust="spacingAndGlyphs">FEN1, γ-H2AX, DAPI</text>
<text x="255.00" y="76.65" font-size="11.4" font-weight="bold" stroke="#000" stroke-width="0.22" text-anchor="start" fill="#000" transform="rotate(-90 255.00 76.65)" textLength="38.80" lengthAdjust="spacingAndGlyphs">SBLF-9</text>
<text x="265.90" y="76.45" font-size="9.0" text-anchor="start" fill="#858585" transform="rotate(-90 265.90 76.45)">HF</text>
<text x="255.00" y="131.69" font-size="11.4" font-weight="bold" stroke="#000" stroke-width="0.22" text-anchor="start" fill="#000" transform="rotate(-90 255.00 131.69)" textLength="37.30" lengthAdjust="spacingAndGlyphs">BT-549</text>
<text x="265.90" y="131.49" font-size="9.0" text-anchor="start" fill="#858585" transform="rotate(-90 265.90 131.49)">BaB</text>
<text x="255.00" y="183.23" font-size="11.4" font-weight="bold" stroke="#000" stroke-width="0.22" text-anchor="start" fill="#000" transform="rotate(-90 255.00 183.23)" textLength="28.80" lengthAdjust="spacingAndGlyphs">MCF7</text>
<text x="265.90" y="183.03" font-size="9.0" text-anchor="start" fill="#858585" transform="rotate(-90 265.90 183.03)">Lu</text>
<text x="255.00" y="248.87" font-size="11.4" font-weight="bold" stroke="#000" stroke-width="0.22" text-anchor="start" fill="#000" transform="rotate(-90 255.00 248.87)" textLength="48.50" lengthAdjust="spacingAndGlyphs">MCF 10A</text>
<text x="265.90" y="248.67" font-size="9.0" text-anchor="start" fill="#858585" transform="rotate(-90 265.90 248.67)">F</text>
<text x="255.00" y="302.51" font-size="11.4" font-weight="bold" stroke="#000" stroke-width="0.22" text-anchor="start" fill="#000" transform="rotate(-90 255.00 302.51)" textLength="39.40" lengthAdjust="spacingAndGlyphs">MB-231</text>
<text x="243.00" y="302.51" font-size="11.4" font-weight="bold" stroke="#000" stroke-width="0.22" text-anchor="start" fill="#000" transform="rotate(-90 243.00 302.51)" textLength="27.20" lengthAdjust="spacingAndGlyphs">MDA-</text>
<text x="265.90" y="302.31" font-size="9.0" text-anchor="start" fill="#858585" transform="rotate(-90 265.90 302.31)">BaB</text>
<text x="255.00" y="357.10" font-size="11.4" font-weight="bold" stroke="#000" stroke-width="0.22" text-anchor="start" fill="#000" transform="rotate(-90 255.00 357.10)" textLength="41.80" lengthAdjust="spacingAndGlyphs">SK-BR-3</text>
<text x="265.90" y="356.90" font-size="9.0" text-anchor="start" fill="#858585" transform="rotate(-90 265.90 356.90)">Lu HER2+</text>
<text x="255.00" y="407.64" font-size="11.4" font-weight="bold" stroke="#000" stroke-width="0.22" text-anchor="start" fill="#000" transform="rotate(-90 255.00 407.64)" textLength="31.30" lengthAdjust="spacingAndGlyphs">BT-20</text>
<text x="265.90" y="407.44" font-size="9.0" text-anchor="start" fill="#858585" transform="rotate(-90 265.90 407.44)">BaA</text>
<text x="255.00" y="463.28" font-size="11.4" font-weight="bold" stroke="#000" stroke-width="0.22" text-anchor="start" fill="#000" transform="rotate(-90 255.00 463.28)" textLength="31.00" lengthAdjust="spacingAndGlyphs">T-47D</text>
<text x="265.90" y="463.08" font-size="9.0" text-anchor="start" fill="#858585" transform="rotate(-90 265.90 463.08)">Lu</text>
<text x="255.00" y="521.97" font-size="11.4" font-weight="bold" stroke="#000" stroke-width="0.22" text-anchor="start" fill="#000" transform="rotate(-90 255.00 521.97)" textLength="36.80" lengthAdjust="spacingAndGlyphs">BT-474</text>
<text x="265.90" y="521.77" font-size="9.0" text-anchor="start" fill="#858585" transform="rotate(-90 265.90 521.77)">Lu HER2+</text>
<text x="255.00" y="581.76" font-size="11.4" font-weight="bold" stroke="#000" stroke-width="0.22" text-anchor="start" fill="#000" transform="rotate(-90 255.00 581.76)" textLength="40.00" lengthAdjust="spacingAndGlyphs">MB-468</text>
<text x="243.00" y="581.76" font-size="11.4" font-weight="bold" stroke="#000" stroke-width="0.22" text-anchor="start" fill="#000" transform="rotate(-90 243.00 581.76)" textLength="27.20" lengthAdjust="spacingAndGlyphs">MDA-</text>
<text x="265.90" y="581.56" font-size="9.0" text-anchor="start" fill="#858585" transform="rotate(-90 265.90 581.56)">BaA</text>
<defs>
<clipPath id="cc0"><rect x="0" y="0" width="51.75" height="52.7"/></clipPath>
</defs>
<g transform="translate(270.05 30.90)" clip-path="url(#cc0)">
<rect width="51.75" height="52.7" fill="#000"/>
<g filter="url(#fSparse)" style="mix-blend-mode:screen"><ellipse cx="29.8" cy="13.3" rx="9.28" ry="8.96" fill="rgb(85,0,0)"/></g>
<g filter="url(#fSparse)" style="mix-blend-mode:screen"><ellipse cx="22.8" cy="44.1" rx="10.08" ry="5.92" fill="rgb(45,0,0)" transform="rotate(-30 22.8 44.1)"/></g>
<rect x="2.8" y="49.0" width="14.4" height="1.1" fill="#fff"/>
<text x="10.3" y="47.3" font-size="6.3" font-weight="bold" fill="#fff" stroke="#fff" stroke-width="0.15" text-anchor="middle" textLength="16.2" lengthAdjust="spacingAndGlyphs">10 µm</text>
</g>
<g transform="translate(325.65 30.90)" clip-path="url(#cc0)">
<rect width="51.75" height="52.7" fill="#000"/>
<circle cx="40.5" cy="3.8" r="0.8" fill="rgb(12,120,30)" filter="url(#sp2)"/>
<rect x="2.8" y="49.0" width="14.4" height="1.1" fill="#c0c0c0"/>
</g>
<g transform="translate(381.25 30.90)" clip-path="url(#cc0)">
<rect width="51.75" height="52.7" fill="#000"/>
<g filter="url(#dapi)"><ellipse cx="29.8" cy="13.3" rx="11.60" ry="11.20" fill="rgb(140,140,140)"/><ellipse cx="22.8" cy="44.1" rx="12.60" ry="7.40" fill="rgb(102,102,102)" transform="rotate(-30 22.8 44.1)"/></g>
<rect x="2.8" y="49.0" width="14.4" height="1.1" fill="#c0c0c0"/>
</g>
<g transform="translate(436.85 30.90)" clip-path="url(#cc0)">
<rect width="51.75" height="52.7" fill="#000"/>
<g filter="url(#dome)"><ellipse cx="29.8" cy="13.3" rx="11.60" ry="11.20" fill="rgb(18,11,161)"/><ellipse cx="22.8" cy="44.1" rx="12.60" ry="7.40" fill="rgb(13,8,117)" transform="rotate(-30 22.8 44.1)"/></g>
<g filter="url(#fSparse)" style="mix-blend-mode:screen"><ellipse cx="29.8" cy="13.3" rx="8.82" ry="8.51" fill="rgb(46,0,11)"/></g>
<g filter="url(#fSparse)" style="mix-blend-mode:screen"><ellipse cx="22.8" cy="44.1" rx="9.58" ry="5.62" fill="rgb(24,0,6)" transform="rotate(-30 22.8 44.1)"/></g>
<rect x="2.8" y="49.0" width="14.4" height="1.1" fill="#c0c0c0"/>
</g>
<g transform="translate(492.45 30.90)" clip-path="url(#cc0)">
<rect width="51.75" height="52.7" fill="#000"/>
<rect width="51.75" height="52.7" fill="rgb(5,5,5)"/>
<g filter="url(#b20)"><ellipse cx="29.8" cy="13.3" rx="11.60" ry="11.20" fill="rgb(18,18,18)"/><ellipse cx="22.8" cy="44.1" rx="12.60" ry="7.40" fill="rgb(10,10,10)" transform="rotate(-30 22.8 44.1)"/></g>
<circle cx="33.3" cy="11.4" r="1.56" fill="rgb(110,110,110)" filter="url(#sp3)"/>
<circle cx="31" cy="7" r="0.96" fill="rgb(80,80,80)" filter="url(#sp3)"/>
<circle cx="36" cy="14" r="0.96" fill="rgb(70,70,70)" filter="url(#sp3)"/>
<circle cx="28" cy="9" r="0.84" fill="rgb(60,60,60)" filter="url(#sp3)"/>
<rect x="2.8" y="49.0" width="14.4" height="1.1" fill="#c0c0c0"/>
</g>
<g transform="translate(270.05 86.69)" clip-path="url(#cc0)">
<rect width="51.75" height="52.7" fill="#000"/>
<g filter="url(#fSparse)" style="mix-blend-mode:screen"><ellipse cx="11.5" cy="20.3" rx="7.52" ry="10.88" fill="rgb(55,0,0)" transform="rotate(18 11.5 20.3)"/></g>
<g filter="url(#fSoft)" style="mix-blend-mode:screen"><ellipse cx="40.5" cy="17.0" rx="7.36" ry="11.84" fill="rgb(175,0,0)" transform="rotate(35 40.5 17.0)"/></g>
<rect x="2.8" y="49.0" width="14.4" height="1.1" fill="#c0c0c0"/>
</g>
<g transform="translate(325.65 86.69)" clip-path="url(#cc0)">
<rect width="51.75" height="52.7" fill="#000"/>
<circle cx="16.4" cy="21.7" r="1.0" fill="rgb(23,230,57)" filter="url(#sp2)"/>
<circle cx="36" cy="17" r="0.7" fill="rgb(7,70,17)" filter="url(#sp2)"/>
<circle cx="41" cy="16" r="0.7" fill="rgb(7,70,17)" filter="url(#sp2)"/>
<circle cx="24" cy="0.5" r="0.6" fill="rgb(9,90,22)" filter="url(#sp2)"/>
<rect x="2.8" y="49.0" width="14.4" height="1.1" fill="#c0c0c0"/>
</g>
<g transform="translate(381.25 86.69)" clip-path="url(#cc0)">
<rect width="51.75" height="52.7" fill="#000"/>
<g filter="url(#dapi)"><ellipse cx="11.5" cy="20.3" rx="9.40" ry="13.60" fill="rgb(108,108,108)" transform="rotate(18 11.5 20.3)"/><ellipse cx="40.5" cy="17.0" rx="9.20" ry="14.80" fill="rgb(138,138,138)" transform="rotate(35 40.5 17.0)"/></g>
<rect x="2.8" y="49.0" width="14.4" height="1.1" fill="#c0c0c0"/>
</g>
<g transform="translate(436.85 86.69)" clip-path="url(#cc0)">
<rect width="51.75" height="52.7" fill="#000"/>
<g filter="url(#dome)"><ellipse cx="11.5" cy="20.3" rx="9.40" ry="13.60" fill="rgb(14,8,124)" transform="rotate(18 11.5 20.3)"/><ellipse cx="40.5" cy="17.0" rx="9.20" ry="14.80" fill="rgb(17,11,158)" transform="rotate(35 40.5 17.0)"/></g>
<g filter="url(#fSparse)" style="mix-blend-mode:screen"><ellipse cx="11.5" cy="20.3" rx="7.14" ry="10.34" fill="rgb(30,0,7)" transform="rotate(18 11.5 20.3)"/></g>
<g filter="url(#mGrain)" style="mix-blend-mode:screen"><ellipse cx="40.5" cy="17.0" rx="6.99" ry="11.25" fill="rgb(140,0,35)" transform="rotate(35 40.5 17.0)"/></g>
<circle cx="16.4" cy="21.7" r="1.0" fill="rgb(23,230,92)" filter="url(#sp2)"/>
<rect x="2.8" y="49.0" width="14.4" height="1.1" fill="#c0c0c0"/>
</g>
<g transform="translate(492.45 86.69)" clip-path="url(#cc0)">
<rect width="51.75" height="52.7" fill="#000"/>
<rect width="51.75" height="52.7" fill="rgb(6,6,6)"/>
<g filter="url(#b20)"><ellipse cx="11.5" cy="20.3" rx="9.40" ry="13.60" fill="rgb(40,40,40)" transform="rotate(18 11.5 20.3)"/><ellipse cx="40.5" cy="17.0" rx="9.20" ry="14.80" fill="rgb(35,35,35)" transform="rotate(35 40.5 17.0)"/></g>
<circle cx="9.9" cy="19.8" r="2.28" fill="rgb(165,165,165)" filter="url(#sp3)"/>
<circle cx="12.9" cy="24.4" r="2.40" fill="rgb(175,175,175)" filter="url(#sp3)"/>
<circle cx="44.5" cy="12.6" r="1.68" fill="rgb(180,180,180)" filter="url(#sp3)"/>
<circle cx="42.5" cy="18.3" r="1.68" fill="rgb(150,150,150)" filter="url(#sp3)"/>
<circle cx="37.8" cy="24.2" r="1.92" fill="rgb(150,150,150)" filter="url(#sp3)"/>
<circle cx="8" cy="1" r="0.72" fill="rgb(150,150,150)" filter="url(#sp3)"/>
<rect x="2.8" y="49.0" width="14.4" height="1.1" fill="#c0c0c0"/>
</g>
<g transform="translate(270.05 142.48)" clip-path="url(#cc0)">
<rect width="51.75" height="52.7" fill="#000"/>
<g filter="url(#fSparse)" style="mix-blend-mode:screen"><ellipse cx="15.0" cy="15.0" rx="12.82" ry="9.50" fill="rgb(80,0,0)" transform="rotate(10 15.0 15.0)"/></g>
<g filter="url(#fSparse)" style="mix-blend-mode:screen"><ellipse cx="35.8" cy="29.0" rx="11.25" ry="10.80" fill="rgb(65,0,0)"/></g>
<g filter="url(#fSoft)" style="mix-blend-mode:screen"><ellipse cx="15.5" cy="38.4" rx="9.79" ry="10.45" fill="rgb(95,0,0)"/></g>
<rect x="2.8" y="49.0" width="14.4" height="1.1" fill="#c0c0c0"/>
</g>
<g transform="translate(325.65 142.48)" clip-path="url(#cc0)">
<rect width="51.75" height="52.7" fill="#000"/>
<circle cx="19.4" cy="7.8" r="1.0" fill="rgb(23,230,57)" filter="url(#sp2)"/>
<circle cx="12.4" cy="15.4" r="1.0" fill="rgb(23,230,57)" filter="url(#sp2)"/>
<circle cx="44.8" cy="34.8" r="0.7" fill="rgb(12,120,30)" filter="url(#sp2)"/>
<rect x="2.8" y="49.0" width="14.4" height="1.1" fill="#c0c0c0"/>
</g>
<g transform="translate(381.25 142.48)" clip-path="url(#cc0)">
<rect width="51.75" height="52.7" fill="#000"/>
<g filter="url(#dapi)"><ellipse cx="15.0" cy="15.0" rx="13.50" ry="10.00" fill="rgb(98,98,98)" transform="rotate(10 15.0 15.0)"/><ellipse cx="35.8" cy="29.0" rx="12.50" ry="12.00" fill="rgb(92,92,92)"/><ellipse cx="15.5" cy="38.4" rx="10.30" ry="11.00" fill="rgb(132,132,132)"/></g>
<rect x="2.8" y="49.0" width="14.4" height="1.1" fill="#c0c0c0"/>
</g>
<g transform="translate(436.85 142.48)" clip-path="url(#cc0)">
<rect width="51.75" height="52.7" fill="#000"/>
<g filter="url(#dome)"><ellipse cx="15.0" cy="15.0" rx="13.50" ry="10.00" fill="rgb(12,7,112)" transform="rotate(10 15.0 15.0)"/><ellipse cx="35.8" cy="29.0" rx="12.50" ry="12.00" fill="rgb(11,7,105)"/><ellipse cx="15.5" cy="38.4" rx="10.30" ry="11.00" fill="rgb(17,10,151)"/></g>
<g filter="url(#fSparse)" style="mix-blend-mode:screen"><ellipse cx="15.0" cy="15.0" rx="12.18" ry="9.03" fill="rgb(44,0,11)" transform="rotate(10 15.0 15.0)"/></g>
<g filter="url(#fSparse)" style="mix-blend-mode:screen"><ellipse cx="35.8" cy="29.0" rx="10.69" ry="10.26" fill="rgb(35,0,8)"/></g>
<g filter="url(#mGrain)" style="mix-blend-mode:screen"><ellipse cx="15.5" cy="38.4" rx="9.30" ry="9.93" fill="rgb(57,0,14)"/></g>
<circle cx="19.4" cy="7.8" r="1.0" fill="rgb(23,230,92)" filter="url(#sp2)"/>
<circle cx="12.4" cy="15.4" r="1.0" fill="rgb(23,230,92)" filter="url(#sp2)"/>
<rect x="2.8" y="49.0" width="14.4" height="1.1" fill="#c0c0c0"/>
</g>
<g transform="translate(492.45 142.48)" clip-path="url(#cc0)">
<rect width="51.75" height="52.7" fill="#000"/>
<rect width="51.75" height="52.7" fill="rgb(18,18,18)"/>
<g filter="url(#b20)"><ellipse cx="15.0" cy="15.0" rx="13.50" ry="10.00" fill="rgb(32,32,32)" transform="rotate(10 15.0 15.0)"/><ellipse cx="35.8" cy="29.0" rx="12.50" ry="12.00" fill="rgb(46,46,46)"/><ellipse cx="15.5" cy="38.4" rx="10.30" ry="11.00" fill="rgb(30,30,30)"/></g>
<circle cx="3.8" cy="12.7" r="1.44" fill="rgb(240,240,240)" filter="url(#sp3)"/>
<circle cx="7.2" cy="14.7" r="1.80" fill="rgb(255,255,255)" filter="url(#sp3)"/>
<circle cx="9.9" cy="11.6" r="1.44" fill="rgb(255,255,255)" filter="url(#sp3)"/>
<circle cx="12.9" cy="9.2" r="1.44" fill="rgb(240,240,240)" filter="url(#sp3)"/>
<circle cx="12.5" cy="19.4" r="1.68" fill="rgb(255,255,255)" filter="url(#sp3)"/>
<circle cx="19.4" cy="13.7" r="2.64" fill="rgb(255,255,255)" filter="url(#sp3)"/>
<circle cx="21.1" cy="7.6" r="1.08" fill="rgb(200,200,200)" filter="url(#sp3)"/>
<circle cx="37.8" cy="26.9" r="1.92" fill="rgb(255,255,255)" filter="url(#sp3)"/>
<circle cx="34.3" cy="31.0" r="2.28" fill="rgb(255,255,255)" filter="url(#sp3)"/>
<circle cx="37.0" cy="39.1" r="1.92" fill="rgb(240,240,240)" filter="url(#sp3)"/>
<circle cx="37.4" cy="16.7" r="1.08" fill="rgb(150,150,150)" filter="url(#sp3)"/>
<circle cx="15" cy="35" r="2.40" fill="rgb(80,80,80)" filter="url(#sp3)"/>
<circle cx="23.5" cy="35" r="2.16" fill="rgb(75,75,75)" filter="url(#sp3)"/>
<rect x="2.8" y="49.0" width="14.4" height="1.1" fill="#c0c0c0"/>
</g>
<g transform="translate(270.05 198.27)" clip-path="url(#cc0)">
<rect width="51.75" height="52.7" fill="#000"/>
<g filter="url(#fSmooth)" style="mix-blend-mode:screen"><ellipse cx="14.0" cy="16.4" rx="10.67" ry="13.19" fill="rgb(85,0,0)" transform="rotate(-15 14.0 16.4)"/></g>
<g filter="url(#fSmooth)" style="mix-blend-mode:screen"><ellipse cx="38.6" cy="34.0" rx="9.41" ry="12.61" fill="rgb(75,0,0)" transform="rotate(-12 38.6 34.0)"/></g>
<circle cx="11.3" cy="10.2" r="2.9" fill="rgb(255,20,20)" filter="url(#sp)"/>
<circle cx="6.9" cy="14.2" r="2.4" fill="rgb(255,20,20)" filter="url(#sp)"/>
<circle cx="13.3" cy="19.0" r="2.6" fill="rgb(255,20,20)" filter="url(#sp)"/>
<circle cx="38.3" cy="29.0" r="2.7" fill="rgb(255,20,20)" filter="url(#sp)"/>
<circle cx="36.5" cy="37.6" r="2.3" fill="rgb(255,20,20)" filter="url(#sp)"/>
<circle cx="32.3" cy="39.2" r="1.9" fill="rgb(255,20,20)" filter="url(#sp)"/>
<rect x="2.8" y="49.0" width="14.4" height="1.1" fill="#c0c0c0"/>
</g>
<g transform="translate(325.65 198.27)" clip-path="url(#cc0)">
<rect width="51.75" height="52.7" fill="#000"/>
<circle cx="11" cy="11" r="0.8" fill="rgb(7,70,17)" filter="url(#sp2)"/>
<circle cx="13" cy="19" r="0.8" fill="rgb(6,60,15)" filter="url(#sp2)"/>
<rect x="2.8" y="49.0" width="14.4" height="1.1" fill="#c0c0c0"/>
</g>
<g transform="translate(381.25 198.27)" clip-path="url(#cc0)">
<rect width="51.75" height="52.7" fill="#000"/>
<g filter="url(#dapi)"><ellipse cx="14.0" cy="16.4" rx="11.00" ry="13.60" fill="rgb(151,151,151)" transform="rotate(-15 14.0 16.4)"/><ellipse cx="38.6" cy="34.0" rx="9.70" ry="13.00" fill="rgb(132,132,132)" transform="rotate(-12 38.6 34.0)"/></g>
<rect x="2.8" y="49.0" width="14.4" height="1.1" fill="#c0c0c0"/>
</g>
<g transform="translate(436.85 198.27)" clip-path="url(#cc0)">
<rect width="51.75" height="52.7" fill="#000"/>
<g filter="url(#dome)"><ellipse cx="14.0" cy="16.4" rx="11.00" ry="13.60" fill="rgb(19,12,173)" transform="rotate(-15 14.0 16.4)"/><ellipse cx="38.6" cy="34.0" rx="9.70" ry="13.00" fill="rgb(17,10,151)" transform="rotate(-12 38.6 34.0)"/></g>
<g filter="url(#fSmooth)" style="mix-blend-mode:screen"><ellipse cx="14.0" cy="16.4" rx="10.14" ry="12.53" fill="rgb(52,0,13)" transform="rotate(-15 14.0 16.4)"/></g>
<g filter="url(#fSmooth)" style="mix-blend-mode:screen"><ellipse cx="38.6" cy="34.0" rx="8.94" ry="11.98" fill="rgb(46,0,11)" transform="rotate(-12 38.6 34.0)"/></g>
<circle cx="11.3" cy="10.2" r="2.9" fill="rgb(255,25,114)" filter="url(#sp)"/>
<circle cx="6.9" cy="14.2" r="2.4" fill="rgb(255,25,114)" filter="url(#sp)"/>
<circle cx="13.3" cy="19.0" r="2.6" fill="rgb(255,25,114)" filter="url(#sp)"/>
<circle cx="38.3" cy="29.0" r="2.7" fill="rgb(255,25,114)" filter="url(#sp)"/>
<circle cx="36.5" cy="37.6" r="2.3" fill="rgb(255,25,114)" filter="url(#sp)"/>
<circle cx="32.3" cy="39.2" r="1.9" fill="rgb(255,25,114)" filter="url(#sp)"/>
<rect x="2.8" y="49.0" width="14.4" height="1.1" fill="#c0c0c0"/>
</g>
<g transform="translate(492.45 198.27)" clip-path="url(#cc0)">
<rect width="51.75" height="52.7" fill="#000"/>
<rect width="51.75" height="52.7" fill="rgb(4,4,4)"/>
<g filter="url(#b20)"><ellipse cx="14.0" cy="16.4" rx="11.00" ry="13.60" fill="rgb(20,20,20)" transform="rotate(-15 14.0 16.4)"/><ellipse cx="38.6" cy="34.0" rx="9.70" ry="13.00" fill="rgb(18,18,18)" transform="rotate(-12 38.6 34.0)"/></g>
<circle cx="9.9" cy="10.4" r="2.40" fill="rgb(210,210,210)" filter="url(#sp3)"/>
<circle cx="6.2" cy="14.5" r="2.16" fill="rgb(200,200,200)" filter="url(#sp3)"/>
<circle cx="12.9" cy="19.0" r="2.52" fill="rgb(220,220,220)" filter="url(#sp3)"/>
<circle cx="38.4" cy="29.6" r="2.88" fill="rgb(255,255,255)" filter="url(#sp3)"/>
<circle cx="37.8" cy="36.9" r="2.28" fill="rgb(240,240,240)" filter="url(#sp3)"/>
<circle cx="33.3" cy="39.0" r="2.16" fill="rgb(240,240,240)" filter="url(#sp3)"/>
<rect x="2.8" y="49.0" width="14.4" height="1.1" fill="#c0c0c0"/>
</g>
<g transform="translate(270.05 254.06)" clip-path="url(#cc0)">
<rect width="51.75" height="52.7" fill="#000"/>
<g filter="url(#fSoft)" style="mix-blend-mode:screen"><path d="M28.68 15.50L28.60 16.80L28.36 18.08L27.96 19.33L27.40 20.53L26.71 21.67L25.87 22.73L24.91 23.70L23.83 24.56L22.65 25.32L21.39 25.94L20.05 26.44L18.67 26.80L17.24 27.02L15.80 27.09L14.36 27.02L12.93 26.80L11.55 26.44L10.21 25.94L8.95 25.32L7.77 24.56L6.69 23.70L5.73 22.73L4.89 21.67L4.20 20.53L3.64 19.33L3.24 18.08L3.00 16.80L2.92 15.50L3.00 14.20L3.24 12.92L3.64 11.67L4.20 10.47L4.89 9.33L5.73 8.27L6.69 7.30L7.77 6.44L8.95 5.68L10.21 5.06L11.55 4.56L12.94 4.21L14.36 4.03L15.80 4.06L17.20 4.32L18.50 4.86L19.65 5.61L20.64 6.45L21.57 7.23L22.58 7.85L23.72 8.37L24.95 8.93L26.11 9.67L27.09 10.61L27.82 11.72L28.31 12.93L28.58 14.20Z" fill="rgb(72,0,0)" transform="rotate(25 15.8 15.5)"/></g>
<g filter="url(#fSoft)" style="mix-blend-mode:screen"><ellipse cx="37.8" cy="36.6" rx="12.42" ry="12.60" fill="rgb(64,0,0)"/></g>
<rect x="2.8" y="49.0" width="14.4" height="1.1" fill="#c0c0c0"/>
</g>
<g transform="translate(325.65 254.06)" clip-path="url(#cc0)">
<rect width="51.75" height="52.7" fill="#000"/>
<circle cx="39.4" cy="36.4" r="0.9" fill="rgb(11,110,27)" filter="url(#sp2)"/>
<circle cx="12" cy="12" r="0.7" fill="rgb(5,50,12)" filter="url(#sp2)"/>
<circle cx="17" cy="21" r="0.7" fill="rgb(4,45,11)" filter="url(#sp2)"/>
<rect x="2.8" y="49.0" width="14.4" height="1.1" fill="#c0c0c0"/>
</g>
<g transform="translate(381.25 254.06)" clip-path="url(#cc0)">
<rect width="51.75" height="52.7" fill="#000"/>
<g filter="url(#dapi)"><path d="M29.80 15.50L29.71 16.91L29.45 18.30L29.01 19.66L28.41 20.97L27.65 22.20L26.75 23.36L25.70 24.41L24.53 25.35L23.25 26.17L21.87 26.85L20.42 27.39L18.92 27.78L17.37 28.02L15.80 28.10L14.23 28.02L12.68 27.78L11.18 27.39L9.73 26.85L8.35 26.17L7.07 25.35L5.90 24.41L4.85 23.36L3.95 22.20L3.19 20.97L2.59 19.66L2.15 18.30L1.89 16.91L1.80 15.50L1.89 14.09L2.15 12.70L2.59 11.34L3.19 10.03L3.95 8.80L4.85 7.64L5.90 6.59L7.07 5.65L8.35 4.83L9.73 4.15L11.18 3.61L12.69 3.23L14.24 3.04L15.80 3.06L17.32 3.35L18.73 3.93L19.98 4.75L21.06 5.67L22.08 6.51L23.17 7.18L24.41 7.75L25.74 8.36L27.01 9.16L28.07 10.18L28.86 11.39L29.39 12.71L29.69 14.09Z" fill="rgb(182,182,182)" transform="rotate(25 15.8 15.5)"/><ellipse cx="37.8" cy="36.6" rx="13.50" ry="13.70" fill="rgb(148,148,148)"/></g>
<rect x="2.8" y="49.0" width="14.4" height="1.1" fill="#c0c0c0"/>
</g>
<g transform="translate(436.85 254.06)" clip-path="url(#cc0)">
<rect width="51.75" height="52.7" fill="#000"/>
<g filter="url(#dome)"><path d="M29.80 15.50L29.71 16.91L29.45 18.30L29.01 19.66L28.41 20.97L27.65 22.20L26.75 23.36L25.70 24.41L24.53 25.35L23.25 26.17L21.87 26.85L20.42 27.39L18.92 27.78L17.37 28.02L15.80 28.10L14.23 28.02L12.68 27.78L11.18 27.39L9.73 26.85L8.35 26.17L7.07 25.35L5.90 24.41L4.85 23.36L3.95 22.20L3.19 20.97L2.59 19.66L2.15 18.30L1.89 16.91L1.80 15.50L1.89 14.09L2.15 12.70L2.59 11.34L3.19 10.03L3.95 8.80L4.85 7.64L5.90 6.59L7.07 5.65L8.35 4.83L9.73 4.15L11.18 3.61L12.69 3.23L14.24 3.04L15.80 3.06L17.32 3.35L18.73 3.93L19.98 4.75L21.06 5.67L22.08 6.51L23.17 7.18L24.41 7.75L25.74 8.36L27.01 9.16L28.07 10.18L28.86 11.39L29.39 12.71L29.69 14.09Z" fill="rgb(23,14,209)" transform="rotate(25 15.8 15.5)"/><ellipse cx="37.8" cy="36.6" rx="13.50" ry="13.70" fill="rgb(19,11,170)"/></g>
<g filter="url(#mGrain)" style="mix-blend-mode:screen"><path d="M28.03 15.50L27.96 16.73L27.73 17.95L27.35 19.14L26.82 20.28L26.16 21.36L25.37 22.37L24.45 23.29L23.43 24.11L22.31 24.82L21.11 25.42L19.84 25.89L18.52 26.24L17.17 26.44L15.80 26.51L14.43 26.44L13.08 26.24L11.76 25.89L10.49 25.42L9.29 24.82L8.17 24.11L7.15 23.29L6.23 22.37L5.44 21.36L4.78 20.28L4.25 19.14L3.87 17.95L3.64 16.73L3.56 15.50L3.64 14.27L3.87 13.05L4.25 11.86L4.78 10.72L5.44 9.64L6.23 8.63L7.15 7.71L8.17 6.89L9.29 6.18L10.49 5.58L11.76 5.11L13.08 4.78L14.44 4.61L15.80 4.63L17.13 4.88L18.36 5.39L19.45 6.10L20.40 6.91L21.29 7.64L22.24 8.23L23.33 8.73L24.49 9.26L25.60 9.96L26.52 10.85L27.22 11.90L27.68 13.06L27.94 14.27Z" fill="rgb(43,0,10)" transform="rotate(25 15.8 15.5)"/></g>
<g filter="url(#mGrain)" style="mix-blend-mode:screen"><ellipse cx="37.8" cy="36.6" rx="11.80" ry="11.97" fill="rgb(38,0,9)"/></g>
<rect x="2.8" y="49.0" width="14.4" height="1.1" fill="#c0c0c0"/>
</g>
<g transform="translate(492.45 254.06)" clip-path="url(#cc0)">
<rect width="51.75" height="52.7" fill="#000"/>
<rect width="51.75" height="52.7" fill="rgb(22,22,22)"/>
<g filter="url(#b20)"><path d="M29.80 15.50L29.71 16.91L29.45 18.30L29.01 19.66L28.41 20.97L27.65 22.20L26.75 23.36L25.70 24.41L24.53 25.35L23.25 26.17L21.87 26.85L20.42 27.39L18.92 27.78L17.37 28.02L15.80 28.10L14.23 28.02L12.68 27.78L11.18 27.39L9.73 26.85L8.35 26.17L7.07 25.35L5.90 24.41L4.85 23.36L3.95 22.20L3.19 20.97L2.59 19.66L2.15 18.30L1.89 16.91L1.80 15.50L1.89 14.09L2.15 12.70L2.59 11.34L3.19 10.03L3.95 8.80L4.85 7.64L5.90 6.59L7.07 5.65L8.35 4.83L9.73 4.15L11.18 3.61L12.69 3.23L14.24 3.04L15.80 3.06L17.32 3.35L18.73 3.93L19.98 4.75L21.06 5.67L22.08 6.51L23.17 7.18L24.41 7.75L25.74 8.36L27.01 9.16L28.07 10.18L28.86 11.39L29.39 12.71L29.69 14.09Z" fill="rgb(36,36,36)" transform="rotate(25 15.8 15.5)"/><ellipse cx="37.8" cy="36.6" rx="13.50" ry="13.70" fill="rgb(40,40,40)"/></g>
<circle cx="15" cy="11" r="3.12" fill="rgb(110,110,110)" filter="url(#sp3)"/>
<circle cx="8.9" cy="17.1" r="2.40" fill="rgb(90,90,90)" filter="url(#sp3)"/>
<circle cx="24.1" cy="16.1" r="1.80" fill="rgb(80,80,80)" filter="url(#sp3)"/>
<circle cx="32.9" cy="28.3" r="1.68" fill="rgb(255,255,255)" filter="url(#sp3)"/>
<circle cx="33.3" cy="34.5" r="2.76" fill="rgb(255,255,255)" filter="url(#sp3)"/>
<circle cx="38.4" cy="30" r="1.56" fill="rgb(255,255,255)" filter="url(#sp3)"/>
<circle cx="43.5" cy="36.5" r="1.92" fill="rgb(255,255,255)" filter="url(#sp3)"/>
<circle cx="39.4" cy="38.5" r="1.56" fill="rgb(240,240,240)" filter="url(#sp3)"/>
<circle cx="30.2" cy="37.5" r="1.56" fill="rgb(230,230,230)" filter="url(#sp3)"/>
<rect x="2.8" y="49.0" width="14.4" height="1.1" fill="#c0c0c0"/>
</g>
<g transform="translate(270.05 309.85)" clip-path="url(#cc0)">
<rect width="51.75" height="52.7" fill="#000"/>
<g filter="url(#fSoft)" style="mix-blend-mode:screen"><ellipse cx="13.8" cy="25.5" rx="10.98" ry="11.07" fill="rgb(120,0,0)"/></g>
<g filter="url(#fSparse)" style="mix-blend-mode:screen"><ellipse cx="39.5" cy="21.8" rx="6.24" ry="6.42" fill="rgb(120,0,0)"/></g>
<rect x="2.8" y="49.0" width="14.4" height="1.1" fill="#c0c0c0"/>
</g>
<g transform="translate(325.65 309.85)" clip-path="url(#cc0)">
<rect width="51.75" height="52.7" fill="#000"/>
<circle cx="17" cy="35" r="0.9" fill="rgb(22,220,55)" filter="url(#sp2)"/>
<circle cx="5" cy="23" r="0.6" fill="rgb(6,60,15)" filter="url(#sp2)"/>
<circle cx="16" cy="23" r="0.6" fill="rgb(6,60,15)" filter="url(#sp2)"/>
<circle cx="40" cy="21" r="0.6" fill="rgb(5,50,12)" filter="url(#sp2)"/>
<rect x="2.8" y="49.0" width="14.4" height="1.1" fill="#c0c0c0"/>
</g>
<g transform="translate(381.25 309.85)" clip-path="url(#cc0)">
<rect width="51.75" height="52.7" fill="#000"/>
<g filter="url(#dapi)"><ellipse cx="13.8" cy="25.5" rx="12.20" ry="12.30" fill="rgb(170,170,170)"/><ellipse cx="39.5" cy="21.8" rx="10.40" ry="10.70" fill="rgb(85,85,85)"/></g>
<rect x="2.8" y="49.0" width="14.4" height="1.1" fill="#c0c0c0"/>
</g>
<g transform="translate(436.85 309.85)" clip-path="url(#cc0)">
<rect width="51.75" height="52.7" fill="#000"/>
<g filter="url(#dome)"><ellipse cx="13.8" cy="25.5" rx="12.20" ry="12.30" fill="rgb(22,13,195)"/><ellipse cx="39.5" cy="21.8" rx="10.40" ry="10.70" fill="rgb(11,6,97)"/></g>
<g filter="url(#mGrain)" style="mix-blend-mode:screen"><ellipse cx="13.8" cy="25.5" rx="10.43" ry="10.52" fill="rgb(72,0,18)"/></g>
<g filter="url(#fSparse)" style="mix-blend-mode:screen"><ellipse cx="39.5" cy="21.8" rx="5.93" ry="6.10" fill="rgb(66,0,16)"/></g>
<circle cx="17" cy="35" r="0.9" fill="rgb(22,220,88)" filter="url(#sp2)"/>
<rect x="2.8" y="49.0" width="14.4" height="1.1" fill="#c0c0c0"/>
</g>
<g transform="translate(492.45 309.85)" clip-path="url(#cc0)">
<rect width="51.75" height="52.7" fill="#000"/>
<rect width="51.75" height="52.7" fill="rgb(5,5,5)"/>
<g filter="url(#dapi)"><ellipse cx="13.8" cy="25.5" rx="12.20" ry="12.30" fill="rgb(132,132,132)"/></g>
<circle cx="38.4" cy="19.5" r="2.88" fill="rgb(105,105,105)" filter="url(#sp3)"/>
<circle cx="36.5" cy="24" r="2.40" fill="rgb(90,90,90)" filter="url(#sp3)"/>
<circle cx="41" cy="24" r="2.40" fill="rgb(85,85,85)" filter="url(#sp3)"/>
<rect x="2.8" y="49.0" width="14.4" height="1.1" fill="#c0c0c0"/>
</g>
<g transform="translate(270.05 365.64)" clip-path="url(#cc0)">
<rect width="51.75" height="52.7" fill="#000"/>
<ellipse cx="22.8" cy="22.8" rx="13.58" ry="18.60" fill="rgb(38,0,0)" transform="rotate(-25 22.8 22.8)" filter="url(#b12)"/>
<g filter="url(#fGrain)" style="mix-blend-mode:screen"><ellipse cx="22.8" cy="22.8" rx="14.16" ry="19.40" fill="rgb(75,0,0)" transform="rotate(-25 22.8 22.8)"/></g>
<circle cx="25.0" cy="15.5" r="1.4" fill="rgb(230,18,18)" filter="url(#sp)"/>
<circle cx="18.5" cy="23.5" r="1.6" fill="rgb(220,17,17)" filter="url(#sp)"/>
<circle cx="27.0" cy="27.0" r="1.4" fill="rgb(210,16,16)" filter="url(#sp)"/>
<rect x="2.8" y="49.0" width="14.4" height="1.1" fill="#c0c0c0"/>
</g>
<g transform="translate(325.65 365.64)" clip-path="url(#cc0)">
<rect width="51.75" height="52.7" fill="#000"/>
<circle cx="24.5" cy="12" r="0.8" fill="rgb(9,90,22)" filter="url(#sp2)"/>
<circle cx="21" cy="19" r="0.8" fill="rgb(10,100,25)" filter="url(#sp2)"/>
<circle cx="25.5" cy="23" r="0.9" fill="rgb(14,140,35)" filter="url(#sp2)"/>
<circle cx="22" cy="26" r="0.8" fill="rgb(12,120,30)" filter="url(#sp2)"/>
<circle cx="27" cy="31" r="0.8" fill="rgb(10,100,25)" filter="url(#sp2)"/>
<circle cx="36" cy="29" r="0.8" fill="rgb(9,90,22)" filter="url(#sp2)"/>
<circle cx="30" cy="35" r="0.7" fill="rgb(8,80,20)" filter="url(#sp2)"/>
<circle cx="3" cy="47" r="0.6" fill="rgb(9,90,22)" filter="url(#sp2)"/>
<rect x="2.8" y="49.0" width="14.4" height="1.1" fill="#c0c0c0"/>
</g>
<g transform="translate(381.25 365.64)" clip-path="url(#cc0)">
<rect width="51.75" height="52.7" fill="#000"/>
<g filter="url(#dapi)"><ellipse cx="22.8" cy="22.8" rx="14.60" ry="20.00" fill="rgb(106,106,106)" transform="rotate(-25 22.8 22.8)"/></g>
<rect x="2.8" y="49.0" width="14.4" height="1.1" fill="#c0c0c0"/>
</g>
<g transform="translate(436.85 365.64)" clip-path="url(#cc0)">
<rect width="51.75" height="52.7" fill="#000"/>
<g filter="url(#dome)"><ellipse cx="22.8" cy="22.8" rx="14.60" ry="20.00" fill="rgb(13,8,121)" transform="rotate(-25 22.8 22.8)"/></g>
<ellipse cx="22.8" cy="22.8" rx="13.14" ry="18.00" fill="rgb(26,0,0)" transform="rotate(-25 22.8 22.8)" filter="url(#b12)" style="mix-blend-mode:screen"/>
<g filter="url(#mGrain)" style="mix-blend-mode:screen"><ellipse cx="22.8" cy="22.8" rx="13.45" ry="18.43" fill="rgb(45,0,11)" transform="rotate(-25 22.8 22.8)"/></g>
<circle cx="25.0" cy="15.5" r="1.4" fill="rgb(230,23,103)" filter="url(#sp)"/>
<circle cx="18.5" cy="23.5" r="1.6" fill="rgb(220,22,99)" filter="url(#sp)"/>
<circle cx="27.0" cy="27.0" r="1.4" fill="rgb(210,21,94)" filter="url(#sp)"/>
<rect x="2.8" y="49.0" width="14.4" height="1.1" fill="#c0c0c0"/>
</g>
<g transform="translate(492.45 365.64)" clip-path="url(#cc0)">
<rect width="51.75" height="52.7" fill="#000"/>
<rect width="51.75" height="52.7" fill="rgb(5,5,5)"/>
<g filter="url(#b20)"><ellipse cx="22.8" cy="22.8" rx="14.60" ry="20.00" fill="rgb(45,45,45)" transform="rotate(-25 22.8 22.8)"/></g>
<circle cx="16" cy="16.4" r="1.80" fill="rgb(220,220,220)" filter="url(#sp3)"/>
<circle cx="25.8" cy="17.5" r="2.64" fill="rgb(210,210,210)" filter="url(#sp3)"/>
<circle cx="19.4" cy="24" r="3.12" fill="rgb(255,255,255)" filter="url(#sp3)"/>
<circle cx="28.8" cy="28" r="2.64" fill="rgb(210,210,210)" filter="url(#sp3)"/>
<circle cx="21.1" cy="11.3" r="1.20" fill="rgb(170,170,170)" filter="url(#sp3)"/>
<circle cx="31.7" cy="37.8" r="1.20" fill="rgb(150,150,150)" filter="url(#sp3)"/>
<rect x="2.8" y="49.0" width="14.4" height="1.1" fill="#c0c0c0"/>
</g>
<g transform="translate(270.05 421.43)" clip-path="url(#cc0)">
<rect width="51.75" height="52.7" fill="#000"/>
<ellipse cx="20.3" cy="33.5" rx="10.70" ry="11.35" fill="rgb(58,0,0)" filter="url(#b12)"/>
<g filter="url(#fGrain)" style="mix-blend-mode:screen"><ellipse cx="20.3" cy="33.5" rx="11.15" ry="11.83" fill="rgb(105,0,0)"/></g>
<ellipse cx="30.5" cy="14.8" rx="11.81" ry="9.77" fill="rgb(62,0,0)" transform="rotate(10 30.5 14.8)" filter="url(#b12)"/>
<g filter="url(#fGrain)" style="mix-blend-mode:screen"><ellipse cx="30.5" cy="14.8" rx="12.32" ry="10.19" fill="rgb(110,0,0)" transform="rotate(10 30.5 14.8)"/></g>
<circle cx="28.5" cy="16.5" r="1.3" fill="rgb(230,18,18)" filter="url(#sp)"/>
<circle cx="21.0" cy="31.5" r="1.3" fill="rgb(220,17,17)" filter="url(#sp)"/>
<rect x="2.8" y="49.0" width="14.4" height="1.1" fill="#c0c0c0"/>
</g>
<g transform="translate(325.65 421.43)" clip-path="url(#cc0)">
<rect width="51.75" height="52.7" fill="#000"/>
<circle cx="38" cy="13" r="1.0" fill="rgb(12,120,30)" filter="url(#sp2)"/>
<circle cx="32" cy="19.5" r="1.0" fill="rgb(14,140,35)" filter="url(#sp2)"/>
<circle cx="26" cy="13" r="0.7" fill="rgb(8,80,20)" filter="url(#sp2)"/>
<circle cx="33" cy="29" r="0.8" fill="rgb(10,100,25)" filter="url(#sp2)"/>
<circle cx="17" cy="30" r="0.7" fill="rgb(7,70,17)" filter="url(#sp2)"/>
<circle cx="23" cy="41" r="0.7" fill="rgb(7,70,17)" filter="url(#sp2)"/>
<circle cx="14" cy="20" r="0.6" fill="rgb(6,60,15)" filter="url(#sp2)"/>
<circle cx="19" cy="34" r="0.6" fill="rgb(6,60,15)" filter="url(#sp2)"/>
<rect x="2.8" y="49.0" width="14.4" height="1.1" fill="#c0c0c0"/>
</g>
<g transform="translate(381.25 421.43)" clip-path="url(#cc0)">
<rect width="51.75" height="52.7" fill="#000"/>
<g filter="url(#dapi)"><ellipse cx="20.3" cy="33.5" rx="11.50" ry="12.20" fill="rgb(129,129,129)"/><ellipse cx="30.5" cy="14.8" rx="12.70" ry="10.50" fill="rgb(138,138,138)" transform="rotate(10 30.5 14.8)"/></g>
<rect x="2.8" y="49.0" width="14.4" height="1.1" fill="#c0c0c0"/>
</g>
<g transform="translate(436.85 421.43)" clip-path="url(#cc0)">
<rect width="51.75" height="52.7" fill="#000"/>
<g filter="url(#dome)"><ellipse cx="20.3" cy="33.5" rx="11.50" ry="12.20" fill="rgb(16,10,148)"/><ellipse cx="30.5" cy="14.8" rx="12.70" ry="10.50" fill="rgb(17,11,158)" transform="rotate(10 30.5 14.8)"/></g>
<ellipse cx="20.3" cy="33.5" rx="10.35" ry="10.98" fill="rgb(40,0,0)" filter="url(#b12)" style="mix-blend-mode:screen"/>
<g filter="url(#mGrain)" style="mix-blend-mode:screen"><ellipse cx="20.3" cy="33.5" rx="10.60" ry="11.24" fill="rgb(63,0,15)"/></g>
<ellipse cx="30.5" cy="14.8" rx="11.43" ry="9.45" fill="rgb(43,0,0)" transform="rotate(10 30.5 14.8)" filter="url(#b12)" style="mix-blend-mode:screen"/>
<g filter="url(#mGrain)" style="mix-blend-mode:screen"><ellipse cx="30.5" cy="14.8" rx="11.70" ry="9.68" fill="rgb(66,0,16)" transform="rotate(10 30.5 14.8)"/></g>
<circle cx="28.5" cy="16.5" r="1.3" fill="rgb(230,23,103)" filter="url(#sp)"/>
<circle cx="21.0" cy="31.5" r="1.3" fill="rgb(220,22,99)" filter="url(#sp)"/>
<rect x="2.8" y="49.0" width="14.4" height="1.1" fill="#c0c0c0"/>
</g>
<g transform="translate(492.45 421.43)" clip-path="url(#cc0)">
<rect width="51.75" height="52.7" fill="#000"/>
<rect width="51.75" height="52.7" fill="rgb(6,6,6)"/>
<g filter="url(#b20)"><ellipse cx="20.3" cy="33.5" rx="11.50" ry="12.20" fill="rgb(70,70,70)"/><ellipse cx="30.5" cy="14.8" rx="12.70" ry="10.50" fill="rgb(64,64,64)" transform="rotate(10 30.5 14.8)"/></g>
<circle cx="20.7" cy="31.3" r="2.40" fill="rgb(255,255,255)" filter="url(#sp3)"/>
<circle cx="14" cy="31.9" r="1.80" fill="rgb(220,220,220)" filter="url(#sp3)"/>
<circle cx="28.2" cy="16.6" r="2.40" fill="rgb(140,140,140)" filter="url(#sp3)"/>
<circle cx="22.1" cy="18.1" r="2.16" fill="rgb(130,130,130)" filter="url(#sp3)"/>
<circle cx="16" cy="41.5" r="1.20" fill="rgb(170,170,170)" filter="url(#sp3)"/>
<rect x="2.8" y="49.0" width="14.4" height="1.1" fill="#c0c0c0"/>
</g>
<g transform="translate(270.05 477.22)" clip-path="url(#cc0)">
<rect width="51.75" height="52.7" fill="#000"/>
<g filter="url(#fGrain)" style="mix-blend-mode:screen"><ellipse cx="12.8" cy="17.8" rx="10.80" ry="14.80" fill="rgb(165,0,0)" transform="rotate(-10 12.8 17.8)"/></g>
<g filter="url(#fGrain)" style="mix-blend-mode:screen"><ellipse cx="37.8" cy="17.5" rx="13.60" ry="11.20" fill="rgb(165,0,0)" transform="rotate(-25 37.8 17.5)"/></g>
<rect x="2.8" y="49.0" width="14.4" height="1.1" fill="#c0c0c0"/>
</g>
<g transform="translate(325.65 477.22)" clip-path="url(#cc0)">
<rect width="51.75" height="52.7" fill="#000"/>
<circle cx="13.5" cy="23" r="0.9" fill="rgb(6,60,15)" filter="url(#sp2)"/>
<circle cx="33" cy="20" r="0.7" fill="rgb(4,40,10)" filter="url(#sp2)"/>
<circle cx="38" cy="24" r="0.7" fill="rgb(4,40,10)" filter="url(#sp2)"/>
<circle cx="41" cy="9" r="0.6" fill="rgb(3,35,8)" filter="url(#sp2)"/>
<circle cx="31" cy="27" r="0.6" fill="rgb(3,35,8)" filter="url(#sp2)"/>
<rect x="2.8" y="49.0" width="14.4" height="1.1" fill="#c0c0c0"/>
</g>
<g transform="translate(381.25 477.22)" clip-path="url(#cc0)">
<rect width="51.75" height="52.7" fill="#000"/>
<g filter="url(#dapi)"><ellipse cx="12.8" cy="17.8" rx="10.80" ry="14.80" fill="rgb(127,127,127)" transform="rotate(-10 12.8 17.8)"/><ellipse cx="37.8" cy="17.5" rx="13.60" ry="11.20" fill="rgb(143,143,143)" transform="rotate(-25 37.8 17.5)"/></g>
<rect x="2.8" y="49.0" width="14.4" height="1.1" fill="#c0c0c0"/>
</g>
<g transform="translate(436.85 477.22)" clip-path="url(#cc0)">
<rect width="51.75" height="52.7" fill="#000"/>
<g filter="url(#dome)"><ellipse cx="12.8" cy="17.8" rx="10.80" ry="14.80" fill="rgb(16,10,146)" transform="rotate(-10 12.8 17.8)"/><ellipse cx="37.8" cy="17.5" rx="13.60" ry="11.20" fill="rgb(18,11,164)" transform="rotate(-25 37.8 17.5)"/></g>
<g filter="url(#mGrain)" style="mix-blend-mode:screen"><ellipse cx="12.8" cy="17.8" rx="10.26" ry="14.06" fill="rgb(132,0,33)" transform="rotate(-10 12.8 17.8)"/></g>
<g filter="url(#mGrain)" style="mix-blend-mode:screen"><ellipse cx="37.8" cy="17.5" rx="12.92" ry="10.64" fill="rgb(132,0,33)" transform="rotate(-25 37.8 17.5)"/></g>
<rect x="2.8" y="49.0" width="14.4" height="1.1" fill="#c0c0c0"/>
</g>
<g transform="translate(492.45 477.22)" clip-path="url(#cc0)">
<rect width="51.75" height="52.7" fill="#000"/>
<rect width="51.75" height="52.7" fill="rgb(8,8,8)"/>
<g filter="url(#b20)"><ellipse cx="12.8" cy="17.8" rx="10.80" ry="14.80" fill="rgb(12,12,12)" transform="rotate(-10 12.8 17.8)"/><ellipse cx="37.8" cy="17.5" rx="13.60" ry="11.20" fill="rgb(14,14,14)" transform="rotate(-25 37.8 17.5)"/></g>
<circle cx="14" cy="16.8" r="2.64" fill="rgb(95,95,95)" filter="url(#sp3)"/>
<circle cx="38.4" cy="12.3" r="2.04" fill="rgb(170,170,170)" filter="url(#sp3)"/>
<circle cx="43" cy="15.8" r="1.56" fill="rgb(230,230,230)" filter="url(#sp3)"/>
<circle cx="36.4" cy="16.4" r="1.80" fill="rgb(140,140,140)" filter="url(#sp3)"/>
<circle cx="36.4" cy="25" r="1.20" fill="rgb(90,90,90)" filter="url(#sp3)"/>
<rect x="2.8" y="49.0" width="14.4" height="1.1" fill="#c0c0c0"/>
</g>
<g transform="translate(270.05 533.01)" clip-path="url(#cc0)">
<rect width="51.75" height="52.7" fill="#000"/>
<ellipse cx="17.5" cy="23.2" rx="9.30" ry="9.11" fill="rgb(105,0,0)" filter="url(#b12)"/>
<g filter="url(#fGrain)" style="mix-blend-mode:screen"><ellipse cx="17.5" cy="23.2" rx="9.70" ry="9.51" fill="rgb(80,0,0)"/></g>
<ellipse cx="13.5" cy="35.0" rx="8.37" ry="8.37" fill="rgb(100,0,0)" filter="url(#b12)"/>
<g filter="url(#fGrain)" style="mix-blend-mode:screen"><ellipse cx="13.5" cy="35.0" rx="8.73" ry="8.73" fill="rgb(80,0,0)"/></g>
<ellipse cx="31.3" cy="36.6" rx="10.79" ry="9.30" fill="rgb(110,0,0)" filter="url(#b12)"/>
<g filter="url(#fGrain)" style="mix-blend-mode:screen"><ellipse cx="31.3" cy="36.6" rx="11.25" ry="9.70" fill="rgb(80,0,0)"/></g>
<circle cx="16.0" cy="21.5" r="1.6" fill="rgb(255,20,20)" filter="url(#sp)"/>
<circle cx="19.4" cy="27.5" r="2.2" fill="rgb(255,20,20)" filter="url(#sp)"/>
<circle cx="11.3" cy="35.0" r="1.8" fill="rgb(255,20,20)" filter="url(#sp)"/>
<circle cx="34.3" cy="33.8" r="2.2" fill="rgb(255,20,20)" filter="url(#sp)"/>
<circle cx="26.8" cy="38.0" r="1.7" fill="rgb(255,20,20)" filter="url(#sp)"/>
<circle cx="31.0" cy="41.0" r="1.4" fill="rgb(240,19,19)" filter="url(#sp)"/>
<rect x="2.8" y="49.0" width="14.4" height="1.1" fill="#c0c0c0"/>
</g>
<g transform="translate(325.65 533.01)" clip-path="url(#cc0)">
<rect width="51.75" height="52.7" fill="#000"/>
<circle cx="16" cy="21.5" r="0.9" fill="rgb(12,120,30)" filter="url(#sp2)"/>
<circle cx="19.5" cy="28" r="0.8" fill="rgb(8,80,20)" filter="url(#sp2)"/>
<circle cx="32.5" cy="33.5" r="0.9" fill="rgb(10,100,25)" filter="url(#sp2)"/>
<circle cx="26" cy="39.5" r="0.9" fill="rgb(11,110,27)" filter="url(#sp2)"/>
<circle cx="31" cy="40" r="0.8" fill="rgb(9,90,22)" filter="url(#sp2)"/>
<circle cx="24" cy="31" r="0.6" fill="rgb(5,50,12)" filter="url(#sp2)"/>
<rect x="2.8" y="49.0" width="14.4" height="1.1" fill="#c0c0c0"/>
</g>
<g transform="translate(381.25 533.01)" clip-path="url(#cc0)">
<rect width="51.75" height="52.7" fill="#000"/>
<g filter="url(#dapi)"><ellipse cx="17.5" cy="23.2" rx="10.00" ry="9.80" fill="rgb(104,104,104)"/><ellipse cx="13.5" cy="35.0" rx="9.00" ry="9.00" fill="rgb(104,104,104)"/><ellipse cx="31.3" cy="36.6" rx="11.60" ry="10.00" fill="rgb(132,132,132)"/></g>
<rect x="2.8" y="49.0" width="14.4" height="1.1" fill="#c0c0c0"/>
</g>
<g transform="translate(436.85 533.01)" clip-path="url(#cc0)">
<rect width="51.75" height="52.7" fill="#000"/>
<g filter="url(#dome)"><ellipse cx="17.5" cy="23.2" rx="10.00" ry="9.80" fill="rgb(13,8,119)"/><ellipse cx="13.5" cy="35.0" rx="9.00" ry="9.00" fill="rgb(13,8,119)"/><ellipse cx="31.3" cy="36.6" rx="11.60" ry="10.00" fill="rgb(17,10,151)"/></g>
<ellipse cx="17.5" cy="23.2" rx="9.00" ry="8.82" fill="rgb(73,0,0)" filter="url(#b12)" style="mix-blend-mode:screen"/>
<g filter="url(#mGrain)" style="mix-blend-mode:screen"><ellipse cx="17.5" cy="23.2" rx="9.21" ry="9.03" fill="rgb(48,0,12)"/></g>
<ellipse cx="13.5" cy="35.0" rx="8.10" ry="8.10" fill="rgb(70,0,0)" filter="url(#b12)" style="mix-blend-mode:screen"/>
<g filter="url(#mGrain)" style="mix-blend-mode:screen"><ellipse cx="13.5" cy="35.0" rx="8.29" ry="8.29" fill="rgb(48,0,12)"/></g>
<ellipse cx="31.3" cy="36.6" rx="10.44" ry="9.00" fill="rgb(77,0,0)" filter="url(#b12)" style="mix-blend-mode:screen"/>
<g filter="url(#mGrain)" style="mix-blend-mode:screen"><ellipse cx="31.3" cy="36.6" rx="10.69" ry="9.21" fill="rgb(48,0,12)"/></g>
<circle cx="16.0" cy="21.5" r="1.6" fill="rgb(255,25,114)" filter="url(#sp)"/>
<circle cx="19.4" cy="27.5" r="2.2" fill="rgb(255,25,114)" filter="url(#sp)"/>
<circle cx="11.3" cy="35.0" r="1.8" fill="rgb(255,25,114)" filter="url(#sp)"/>
<circle cx="34.3" cy="33.8" r="2.2" fill="rgb(255,25,114)" filter="url(#sp)"/>
<circle cx="26.8" cy="38.0" r="1.7" fill="rgb(255,25,114)" filter="url(#sp)"/>
<circle cx="31.0" cy="41.0" r="1.4" fill="rgb(240,24,108)" filter="url(#sp)"/>
<rect x="2.8" y="49.0" width="14.4" height="1.1" fill="#c0c0c0"/>
</g>
<g transform="translate(492.45 533.01)" clip-path="url(#cc0)">
<rect width="51.75" height="52.7" fill="#000"/>
<rect width="51.75" height="52.7" fill="rgb(6,6,6)"/>
<g filter="url(#b20)"><ellipse cx="17.5" cy="23.2" rx="10.00" ry="9.80" fill="rgb(80,80,80)"/><ellipse cx="13.5" cy="35.0" rx="9.00" ry="9.00" fill="rgb(72,72,72)"/><ellipse cx="31.3" cy="36.6" rx="11.60" ry="10.00" fill="rgb(85,85,85)"/></g>
<circle cx="16" cy="23" r="2.40" fill="rgb(190,190,190)" filter="url(#sp3)"/>
<circle cx="19.4" cy="28.1" r="2.76" fill="rgb(200,200,200)" filter="url(#sp3)"/>
<circle cx="11.3" cy="35.7" r="2.40" fill="rgb(170,170,170)" filter="url(#sp3)"/>
<circle cx="26.8" cy="38.3" r="2.40" fill="rgb(180,180,180)" filter="url(#sp3)"/>
<circle cx="34.3" cy="34.3" r="2.88" fill="rgb(190,190,190)" filter="url(#sp3)"/>
<circle cx="31.7" cy="41.4" r="2.04" fill="rgb(170,170,170)" filter="url(#sp3)"/>
<rect x="2.8" y="49.0" width="14.4" height="1.1" fill="#c0c0c0"/>
</g>
</svg></body></html>
